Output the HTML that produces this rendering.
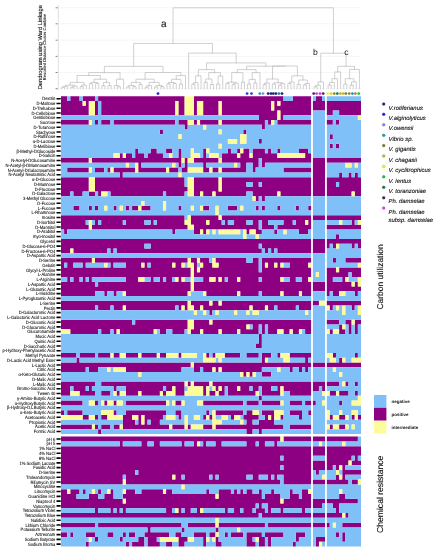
<!DOCTYPE html>
<html><head><meta charset="utf-8"><style>
html,body{margin:0;padding:0;background:#fff;}
svg{display:block;}
</style></head><body>
<svg width="435" height="550" viewBox="0 0 435 550" text-rendering="geometricPrecision">
<rect width="435" height="550" fill="#fff"/>
<line x1="59" y1="7.8" x2="361" y2="7.8" stroke="#f5f5f5" stroke-width="0.9"/>
<line x1="59" y1="23.8" x2="361" y2="23.8" stroke="#f5f5f5" stroke-width="0.9"/>
<line x1="59" y1="40.2" x2="361" y2="40.2" stroke="#f5f5f5" stroke-width="0.9"/>
<line x1="59" y1="56.4" x2="361" y2="56.4" stroke="#f5f5f5" stroke-width="0.9"/>
<line x1="59" y1="72.5" x2="361" y2="72.5" stroke="#f5f5f5" stroke-width="0.9"/>
<line x1="56" y1="88.7" x2="361" y2="88.7" stroke="#d8d8d8" stroke-width="0.6" stroke-dasharray="0.8 1.2"/>
<line x1="58.3" y1="5" x2="58.3" y2="90" stroke="#c8c8c8" stroke-width="0.6"/>
<line x1="55.6" y1="7.8" x2="57.6" y2="7.8" stroke="#777" stroke-width="0.9"/>
<line x1="55.6" y1="23.8" x2="57.6" y2="23.8" stroke="#777" stroke-width="0.9"/>
<line x1="55.6" y1="40.2" x2="57.6" y2="40.2" stroke="#777" stroke-width="0.9"/>
<line x1="55.6" y1="56.4" x2="57.6" y2="56.4" stroke="#777" stroke-width="0.9"/>
<line x1="55.6" y1="72.5" x2="57.6" y2="72.5" stroke="#777" stroke-width="0.9"/>
<line x1="55.6" y1="88.7" x2="57.6" y2="88.7" stroke="#777" stroke-width="0.9"/>
<path d="M61.55 88.70V87.20H64.65V88.70M63.10 87.20V86.40H67.75V88.70M70.85 88.70V87.20H73.95V88.70M72.40 87.20V86.10H77.05V88.70M65.43 86.40V85.10H74.73V86.10M80.15 88.70V86.60H83.25V88.70M81.70 86.60V85.10H86.35V88.70M70.08 85.10V82.40H84.03V85.10M89.45 88.70V83.70H92.55V88.70M95.65 88.70V83.40H98.75V88.70M91.00 83.70V82.40H97.20V83.40M101.85 88.70V85.60H104.95V88.70M108.05 88.70V85.60H111.15V88.70M103.40 85.60V82.40H109.60V85.60M94.10 82.40V79.20H106.50V82.40M77.05 82.40V75.50H100.30V79.20M117.36 88.70V86.80H120.46V88.70M114.26 88.70V85.60H118.91V86.80M116.58 85.60V79.20H123.56V88.70M88.68 75.50V72.60H120.07V79.20M126.66 88.70V86.90H129.76V88.70M132.86 88.70V86.60H135.96V88.70M128.21 86.90V85.60H134.41V86.60M139.06 88.70V84.50H142.16V88.70M131.31 85.60V82.40H140.61V84.50M145.26 88.70V87.10H148.36V88.70M146.81 87.10V85.60H151.46V88.70M154.56 88.70V86.90H157.66V88.70M160.76 88.70V86.60H163.86V88.70M156.11 86.90V85.60H162.31V86.60M149.13 85.60V82.40H159.21V85.60M135.96 82.40V79.20H154.17V82.40M166.96 88.70V83.80H170.06V88.70M173.16 88.70V83.50H176.26V88.70M168.51 83.80V82.50H174.71V83.50M179.36 88.70V84.00H182.46V88.70M171.61 82.50V79.30H180.91V84.00M176.26 79.30V75.60H185.56V88.70M145.06 79.20V72.50H180.91V75.60M104.37 72.60V66.30H162.99V72.50M191.76 88.70V84.20H194.86V88.70M193.31 84.20V82.70H197.96V88.70M195.64 82.70V75.80H201.06V88.70M204.16 88.70V82.20H207.26V88.70M210.36 88.70V84.50H213.46V88.70M205.71 82.20V79.00H211.91V84.50M216.57 88.70V84.00H219.67V88.70M218.12 84.00V76.00H222.77V88.70M208.81 79.00V72.60H220.44V76.00M198.35 75.80V69.60H214.63V72.60M225.87 88.70V83.50H228.97V88.70M232.07 88.70V84.70H235.17V88.70M233.62 84.70V83.20H238.27V88.70M227.42 83.50V82.20H235.94V83.20M241.37 88.70V82.20H244.47V88.70M231.68 82.20V72.60H242.92V82.20M247.57 88.70V84.00H250.67V88.70M253.77 88.70V83.00H256.87V88.70M249.12 84.00V79.40H255.32V83.00M252.22 79.40V72.60H259.97V88.70M237.30 72.60V69.60H256.09V72.60M263.07 88.70V84.50H266.17V88.70M264.62 84.50V83.00H269.27V88.70M272.37 88.70V84.00H275.47V88.70M278.57 88.70V85.20H281.67V88.70M280.12 85.20V83.70H284.77V88.70M273.92 84.00V82.70H282.45V83.70M266.95 83.00V79.00H278.18V82.70M287.87 88.70V83.50H290.97V88.70M289.42 83.50V82.00H294.07V88.70M297.17 88.70V84.50H300.27V88.70M303.37 88.70V85.00H306.47V88.70M304.92 85.00V83.50H309.57V88.70M298.72 84.50V80.00H307.25V83.50M291.75 82.00V75.80H302.99V80.00M272.56 79.00V66.00H297.37V75.80M246.70 69.60V66.20H284.97V66.00M206.49 69.60V62.90H265.83V66.20M188.66 88.70V53.10H236.16V62.90M133.68 66.30V43.40H212.41V53.10M314.11 88.70V86.80H317.24V88.70M315.67 86.80V85.30H320.38V88.70M318.03 85.30V81.80H323.51V88.70M328.05 88.70V85.00H331.19V88.70M329.62 85.00V82.40H334.33V88.70M331.98 82.40V78.70H337.47V88.70M334.72 78.70V71.90H340.60V88.70M343.74 88.70V84.00H346.88V88.70M350.02 88.70V85.00H353.15V88.70M351.58 85.00V81.80H356.29V88.70M345.31 84.00V78.70H353.94V81.80M349.62 78.70V69.40H359.43V88.70M337.66 71.90V66.30H354.53V69.40M320.77 81.80V53.20H346.09V66.30M173.05 43.40V7.80H333.43V53.20" stroke="#bcbcbc" stroke-width="0.7" fill="none" stroke-linecap="square"/>
<circle cx="158.0" cy="93.6" r="1.4" fill="#2222e8"/>
<circle cx="247.1" cy="93.6" r="1.4" fill="#2a3ee6"/>
<circle cx="251.5" cy="93.6" r="1.4" fill="#2a3ee6"/>
<circle cx="259.8" cy="93.6" r="1.4" fill="#1fa3a8"/>
<circle cx="263.0" cy="93.6" r="1.4" fill="#8a86f0"/>
<circle cx="268.2" cy="93.6" r="1.4" fill="#232384"/>
<circle cx="271.0" cy="93.6" r="1.4" fill="#232384"/>
<circle cx="273.3" cy="93.6" r="1.4" fill="#232384"/>
<circle cx="275.9" cy="93.6" r="1.4" fill="#232384"/>
<circle cx="278.9" cy="93.6" r="1.4" fill="#178f98"/>
<circle cx="282.0" cy="93.6" r="1.4" fill="#232384"/>
<circle cx="313.7" cy="93.6" r="1.4" fill="#5a1d78"/>
<circle cx="316.6" cy="93.6" r="1.4" fill="#d83ae0"/>
<circle cx="320.0" cy="93.6" r="1.4" fill="#d83ae0"/>
<circle cx="323.2" cy="93.6" r="1.4" fill="#5a1d78"/>
<circle cx="327.7" cy="93.6" r="1.4" fill="#f2f020"/>
<circle cx="331.0" cy="93.6" r="1.4" fill="#d0e030"/>
<circle cx="334.2" cy="93.6" r="1.4" fill="#8f8f20"/>
<circle cx="337.3" cy="93.6" r="1.4" fill="#148a34"/>
<circle cx="340.3" cy="93.6" r="1.4" fill="#cfae30"/>
<circle cx="343.0" cy="93.6" r="1.4" fill="#b4c030"/>
<circle cx="345.8" cy="93.6" r="1.4" fill="#80801e"/>
<circle cx="349.2" cy="93.6" r="1.4" fill="#8e8e3c"/>
<circle cx="352.4" cy="93.6" r="1.4" fill="#2190c0"/>
<circle cx="355.4" cy="93.6" r="1.4" fill="#a08a30"/>
<circle cx="358.8" cy="93.6" r="1.4" fill="#22c228"/>
<path fill="#8e0082" d="M61.00 96.30H67.18V101.05H61.00ZM70.27 96.30H79.54V101.05H70.27ZM82.63 96.30H94.99V101.05H82.63ZM98.08 96.30H184.60V101.05H98.08ZM193.87 96.30H283.48V101.05H193.87ZM292.75 96.30H311.29V101.05H292.75ZM315.82 96.30H322.07V101.05H315.82ZM61.00 101.05H82.63V105.81H61.00ZM85.72 101.05H88.81V105.81H85.72ZM94.99 101.05H98.08V105.81H94.99ZM101.17 101.05H175.33V105.81H101.17ZM178.42 101.05H184.60V105.81H178.42ZM193.87 101.05H196.96V105.81H193.87ZM203.14 101.05H218.59V105.81H203.14ZM221.68 101.05H271.12V105.81H221.68ZM274.21 101.05H277.30V105.81H274.21ZM280.39 101.05H311.29V105.81H280.39ZM312.70 101.05H325.20V105.81H312.70ZM326.60 101.05H361.00V105.81H326.60ZM61.00 105.81H88.81V110.56H61.00ZM94.99 105.81H98.08V110.56H94.99ZM101.17 105.81H175.33V110.56H101.17ZM178.42 105.81H184.60V110.56H178.42ZM193.87 105.81H196.96V110.56H193.87ZM203.14 105.81H218.59V110.56H203.14ZM221.68 105.81H271.12V110.56H221.68ZM274.21 105.81H311.29V110.56H274.21ZM312.70 105.81H325.20V110.56H312.70ZM326.60 105.81H361.00V110.56H326.60ZM61.00 110.56H88.81V115.32H61.00ZM94.99 110.56H98.08V115.32H94.99ZM101.17 110.56H175.33V115.32H101.17ZM178.42 110.56H184.60V115.32H178.42ZM193.87 110.56H196.96V115.32H193.87ZM203.14 110.56H218.59V115.32H203.14ZM221.68 110.56H277.30V115.32H221.68ZM280.39 110.56H311.29V115.32H280.39ZM326.60 110.56H332.85V115.32H326.60ZM339.11 110.56H361.00V115.32H339.11ZM258.76 115.32H277.30V120.07H258.76ZM280.39 115.32H283.48V120.07H280.39ZM61.00 120.07H88.81V124.83H61.00ZM94.99 120.07H98.08V124.83H94.99ZM101.17 120.07H110.44V124.83H101.17ZM113.53 120.07H175.33V124.83H113.53ZM178.42 120.07H187.69V124.83H178.42ZM193.87 120.07H196.96V124.83H193.87ZM200.05 120.07H218.59V124.83H200.05ZM221.68 120.07H264.94V124.83H221.68ZM268.03 120.07H271.12V124.83H268.03ZM277.30 120.07H311.29V124.83H277.30ZM326.60 120.07H332.85V124.83H326.60ZM335.98 120.07H339.11V124.83H335.98ZM184.60 124.83H187.69V129.59H184.60ZM261.85 124.83H264.94V129.59H261.85ZM159.88 129.58H162.97V134.34H159.88ZM243.31 129.58H246.40V134.34H243.31ZM329.73 134.34H332.85V139.09H329.73ZM258.76 139.09H261.85V143.85H258.76ZM329.73 143.85H332.85V148.60H329.73ZM335.98 143.85H339.11V148.60H335.98ZM135.16 148.60H138.25V153.36H135.16ZM150.61 148.60H156.79V153.36H150.61ZM166.06 148.60H172.24V153.36H166.06ZM178.42 148.60H181.51V153.36H178.42ZM203.14 148.60H206.23V153.36H203.14ZM227.86 148.60H230.95V153.36H227.86ZM237.13 148.60H240.22V153.36H237.13ZM243.31 148.60H249.49V153.36H243.31ZM252.58 148.60H264.94V153.36H252.58ZM268.03 148.60H271.12V153.36H268.03ZM277.30 148.60H280.39V153.36H277.30ZM298.93 148.60H308.20V153.36H298.93ZM119.71 153.36H122.80V158.12H119.71ZM125.89 153.36H132.07V158.12H125.89ZM135.16 153.36H144.43V158.12H135.16ZM147.52 153.36H162.97V158.12H147.52ZM178.42 153.36H181.51V158.12H178.42ZM203.14 153.36H206.23V158.12H203.14ZM221.68 153.36H237.13V158.12H221.68ZM240.22 153.36H249.49V158.12H240.22ZM252.58 153.36H277.30V158.12H252.58ZM305.11 153.36H311.29V158.12H305.11ZM61.00 158.12H88.81V162.87H61.00ZM91.90 158.12H181.51V162.87H91.90ZM184.60 158.12H187.69V162.87H184.60ZM193.87 158.12H218.59V162.87H193.87ZM221.68 158.12H258.76V162.87H221.68ZM261.85 158.12H311.29V162.87H261.85ZM312.70 158.12H325.20V162.87H312.70ZM326.60 158.12H361.00V162.87H326.60ZM138.25 162.87H141.34V167.62H138.25ZM178.42 162.87H181.51V167.62H178.42ZM184.60 162.87H187.69V167.62H184.60ZM203.14 162.87H206.23V167.62H203.14ZM240.22 162.87H246.40V167.62H240.22ZM252.58 162.87H258.76V167.62H252.58ZM261.85 162.87H264.94V167.62H261.85ZM312.70 162.87H325.20V167.62H312.70ZM67.18 167.62H88.81V172.38H67.18ZM94.99 167.62H104.26V172.38H94.99ZM107.35 167.62H110.44V172.38H107.35ZM113.53 167.62H135.16V172.38H113.53ZM138.25 167.62H166.06V172.38H138.25ZM169.15 167.62H178.42V172.38H169.15ZM181.51 167.62H187.69V172.38H181.51ZM203.14 167.62H209.32V172.38H203.14ZM212.41 167.62H218.59V172.38H212.41ZM221.68 167.62H246.40V172.38H221.68ZM252.58 167.62H255.67V172.38H252.58ZM283.48 167.62H311.29V172.38H283.48ZM312.70 167.62H325.20V172.38H312.70ZM119.71 172.38H122.80V177.13H119.71ZM312.70 172.38H325.20V177.13H312.70ZM339.11 172.38H342.24V177.13H339.11ZM348.49 172.38H351.62V177.13H348.49ZM354.74 172.38H357.87V177.13H354.74ZM61.00 177.13H88.81V181.89H61.00ZM94.99 177.13H184.60V181.89H94.99ZM193.87 177.13H218.59V181.89H193.87ZM221.68 177.13H311.29V181.89H221.68ZM312.70 177.13H325.20V181.89H312.70ZM326.60 177.13H361.00V181.89H326.60ZM61.00 181.89H88.81V186.64H61.00ZM94.99 181.89H184.60V186.64H94.99ZM193.87 181.89H218.59V186.64H193.87ZM221.68 181.89H246.40V186.64H221.68ZM252.58 181.89H258.76V186.64H252.58ZM261.85 181.89H311.29V186.64H261.85ZM312.70 181.89H325.20V186.64H312.70ZM326.60 181.89H335.98V186.64H326.60ZM339.11 181.89H361.00V186.64H339.11ZM61.00 186.64H88.81V191.40H61.00ZM94.99 186.64H187.69V191.40H94.99ZM193.87 186.64H218.59V191.40H193.87ZM221.68 186.64H311.29V191.40H221.68ZM312.70 186.64H325.20V191.40H312.70ZM326.60 186.64H361.00V191.40H326.60ZM61.00 191.40H70.27V196.15H61.00ZM73.36 191.40H82.63V196.15H73.36ZM88.81 191.40H94.99V196.15H88.81ZM98.08 191.40H101.17V196.15H98.08ZM110.44 191.40H162.97V196.15H110.44ZM166.06 191.40H184.60V196.15H166.06ZM193.87 191.40H200.05V196.15H193.87ZM203.14 191.40H212.41V196.15H203.14ZM215.50 191.40H246.40V196.15H215.50ZM252.58 191.40H277.30V196.15H252.58ZM280.39 191.40H311.29V196.15H280.39ZM312.70 191.40H325.20V196.15H312.70ZM326.60 191.40H351.62V196.15H326.60ZM354.74 191.40H361.00V196.15H354.74ZM255.67 196.16H258.76V200.91H255.67ZM261.85 196.16H264.94V200.91H261.85ZM73.36 205.66H79.54V210.42H73.36ZM88.81 205.66H91.90V210.42H88.81ZM94.99 205.66H98.08V210.42H94.99ZM113.53 205.66H116.62V210.42H113.53ZM125.89 205.66H128.98V210.42H125.89ZM132.07 205.66H138.25V210.42H132.07ZM141.34 205.66H150.61V210.42H141.34ZM178.42 205.66H181.51V210.42H178.42ZM203.14 205.66H209.32V210.42H203.14ZM227.86 205.66H237.13V210.42H227.86ZM255.67 205.66H258.76V210.42H255.67ZM261.85 205.66H264.94V210.42H261.85ZM277.30 205.66H280.39V210.42H277.30ZM295.84 205.66H298.93V210.42H295.84ZM308.20 205.66H311.29V210.42H308.20ZM61.00 215.18H184.60V219.93H61.00ZM190.78 215.18H218.59V219.93H190.78ZM221.68 215.18H311.29V219.93H221.68ZM312.70 215.18H325.20V219.93H312.70ZM326.60 215.18H361.00V219.93H326.60ZM61.00 219.93H85.72V224.69H61.00ZM94.99 219.93H98.08V224.69H94.99ZM101.17 219.93H122.80V224.69H101.17ZM125.89 219.93H144.43V224.69H125.89ZM150.61 219.93H153.70V224.69H150.61ZM156.79 219.93H184.60V224.69H156.79ZM190.78 219.93H206.23V224.69H190.78ZM209.32 219.93H221.68V224.69H209.32ZM224.77 219.93H227.86V224.69H224.77ZM234.04 219.93H246.40V224.69H234.04ZM252.58 219.93H258.76V224.69H252.58ZM261.85 219.93H268.03V224.69H261.85ZM283.48 219.93H292.75V224.69H283.48ZM295.84 219.93H305.11V224.69H295.84ZM308.20 219.93H311.29V224.69H308.20ZM351.62 219.93H354.74V224.69H351.62ZM61.00 224.69H88.81V229.44H61.00ZM91.90 224.69H187.69V229.44H91.90ZM193.87 224.69H258.76V229.44H193.87ZM261.85 224.69H274.21V229.44H261.85ZM277.30 224.69H311.29V229.44H277.30ZM326.60 224.69H361.00V229.44H326.60ZM64.09 229.44H67.18V234.19H64.09ZM172.24 229.44H175.33V234.19H172.24ZM193.87 229.44H200.05V234.19H193.87ZM203.14 229.44H206.23V234.19H203.14ZM246.40 229.44H249.49V234.19H246.40ZM255.67 229.44H261.85V234.19H255.67ZM274.21 229.44H277.30V234.19H274.21ZM298.93 229.44H308.20V234.19H298.93ZM335.98 234.19H339.11V238.95H335.98ZM61.00 238.95H311.29V243.70H61.00ZM312.70 238.95H325.20V243.70H312.70ZM326.60 238.95H361.00V243.70H326.60ZM61.00 243.70H144.43V248.46H61.00ZM150.61 243.70H258.76V248.46H150.61ZM261.85 243.70H311.29V248.46H261.85ZM312.70 243.70H325.20V248.46H312.70ZM326.60 243.70H329.73V248.46H326.60ZM332.85 243.70H335.98V248.46H332.85ZM351.62 243.70H354.74V248.46H351.62ZM357.87 243.70H361.00V248.46H357.87ZM61.00 248.46H70.27V253.21H61.00ZM73.36 248.46H107.35V253.21H73.36ZM110.44 248.46H113.53V253.21H110.44ZM116.62 248.46H261.85V253.21H116.62ZM264.94 248.46H268.03V253.21H264.94ZM271.12 248.46H274.21V253.21H271.12ZM277.30 248.46H311.29V253.21H277.30ZM312.70 248.46H325.20V253.21H312.70ZM61.00 257.97H91.90V262.72H61.00ZM94.99 257.97H187.69V262.72H94.99ZM190.78 257.97H196.96V262.72H190.78ZM200.05 257.97H209.32V262.72H200.05ZM215.50 257.97H246.40V262.72H215.50ZM252.58 257.97H258.76V262.72H252.58ZM261.85 257.97H311.29V262.72H261.85ZM332.85 257.97H335.98V262.72H332.85ZM345.36 257.97H361.00V262.72H345.36ZM61.00 262.72H64.09V267.48H61.00ZM67.18 262.72H73.36V267.48H67.18ZM82.63 262.72H85.72V267.48H82.63ZM110.44 262.72H113.53V267.48H110.44ZM125.89 262.72H141.34V267.48H125.89ZM144.43 262.72H147.52V267.48H144.43ZM150.61 262.72H172.24V267.48H150.61ZM175.33 262.72H181.51V267.48H175.33ZM193.87 262.72H196.96V267.48H193.87ZM203.14 262.72H212.41V267.48H203.14ZM218.59 262.72H258.76V267.48H218.59ZM261.85 262.72H264.94V267.48H261.85ZM268.03 262.72H274.21V267.48H268.03ZM277.30 262.72H280.39V267.48H277.30ZM289.66 262.72H308.20V267.48H289.66ZM61.00 267.48H190.78V272.24H61.00ZM193.87 267.48H196.96V272.24H193.87ZM200.05 267.48H258.76V272.24H200.05ZM261.85 267.48H311.29V272.24H261.85ZM326.60 267.48H335.98V272.24H326.60ZM339.11 267.48H361.00V272.24H339.11ZM61.00 272.24H190.78V276.99H61.00ZM193.87 272.24H311.29V276.99H193.87ZM326.60 272.24H348.49V276.99H326.60ZM351.62 272.24H361.00V276.99H351.62ZM67.18 276.99H70.27V281.75H67.18ZM73.36 276.99H79.54V281.75H73.36ZM82.63 276.99H85.72V281.75H82.63ZM88.81 276.99H91.90V281.75H88.81ZM125.89 276.99H138.25V281.75H125.89ZM150.61 276.99H153.70V281.75H150.61ZM159.88 276.99H162.97V281.75H159.88ZM166.06 276.99H172.24V281.75H166.06ZM178.42 276.99H181.51V281.75H178.42ZM203.14 276.99H209.32V281.75H203.14ZM215.50 276.99H218.59V281.75H215.50ZM221.68 276.99H224.77V281.75H221.68ZM227.86 276.99H237.13V281.75H227.86ZM240.22 276.99H258.76V281.75H240.22ZM261.85 276.99H280.39V281.75H261.85ZM289.66 276.99H295.84V281.75H289.66ZM302.02 276.99H308.20V281.75H302.02ZM326.60 276.99H332.85V281.75H326.60ZM342.24 276.99H345.36V281.75H342.24ZM61.00 281.75H94.99V286.50H61.00ZM98.08 281.75H190.78V286.50H98.08ZM193.87 281.75H311.29V286.50H193.87ZM312.70 281.75H325.20V286.50H312.70ZM326.60 281.75H351.62V286.50H326.60ZM354.74 281.75H357.87V286.50H354.74ZM61.00 286.50H190.78V291.25H61.00ZM193.87 286.50H311.29V291.25H193.87ZM312.70 286.50H325.20V291.25H312.70ZM326.60 286.50H361.00V291.25H326.60ZM61.00 291.25H94.99V296.01H61.00ZM104.26 291.25H107.35V296.01H104.26ZM113.53 291.25H116.62V296.01H113.53ZM125.89 291.25H187.69V296.01H125.89ZM206.23 291.25H237.13V296.01H206.23ZM240.22 291.25H258.76V296.01H240.22ZM261.85 291.25H280.39V296.01H261.85ZM283.48 291.25H298.93V296.01H283.48ZM302.02 291.25H311.29V296.01H302.02ZM326.60 291.25H329.73V296.01H326.60ZM332.85 291.25H339.11V296.01H332.85ZM354.74 291.25H357.87V296.01H354.74ZM61.00 300.76H187.69V305.52H61.00ZM190.78 300.76H209.32V305.52H190.78ZM212.41 300.76H218.59V305.52H212.41ZM221.68 300.76H311.29V305.52H221.68ZM312.70 300.76H318.95V305.52H312.70ZM326.60 300.76H361.00V305.52H326.60ZM61.00 305.52H94.99V310.27H61.00ZM98.08 305.52H110.44V310.27H98.08ZM113.53 305.52H122.80V310.27H113.53ZM125.89 305.52H175.33V310.27H125.89ZM178.42 305.52H181.51V310.27H178.42ZM184.60 305.52H187.69V310.27H184.60ZM193.87 305.52H200.05V310.27H193.87ZM203.14 305.52H249.49V310.27H203.14ZM252.58 305.52H264.94V310.27H252.58ZM268.03 305.52H274.21V310.27H268.03ZM277.30 305.52H295.84V310.27H277.30ZM298.93 305.52H311.29V310.27H298.93ZM329.73 305.52H332.85V310.27H329.73ZM351.62 305.52H354.74V310.27H351.62ZM209.32 310.27H212.41V315.03H209.32ZM61.00 319.78H132.07V324.54H61.00ZM135.16 319.78H187.69V324.54H135.16ZM193.87 319.78H209.32V324.54H193.87ZM212.41 319.78H311.29V324.54H212.41ZM326.60 319.78H339.11V324.54H326.60ZM345.36 319.78H351.62V324.54H345.36ZM354.74 319.78H361.00V324.54H354.74ZM61.00 324.54H187.69V329.30H61.00ZM193.87 324.54H246.40V329.30H193.87ZM252.58 324.54H258.76V329.30H252.58ZM261.85 324.54H264.94V329.30H261.85ZM268.03 324.54H311.29V329.30H268.03ZM339.11 324.54H342.24V329.30H339.11ZM348.49 324.54H351.62V329.30H348.49ZM354.74 324.54H357.87V329.30H354.74ZM70.27 329.30H98.08V334.05H70.27ZM101.17 329.30H110.44V334.05H101.17ZM113.53 329.30H116.62V334.05H113.53ZM119.71 329.30H153.70V334.05H119.71ZM159.88 329.30H166.06V334.05H159.88ZM172.24 329.30H184.60V334.05H172.24ZM190.78 329.30H200.05V334.05H190.78ZM203.14 329.30H218.59V334.05H203.14ZM221.68 329.30H237.13V334.05H221.68ZM240.22 329.30H258.76V334.05H240.22ZM261.85 329.30H264.94V334.05H261.85ZM268.03 329.30H277.30V334.05H268.03ZM283.48 329.30H289.66V334.05H283.48ZM292.75 329.30H298.93V334.05H292.75ZM305.11 329.30H311.29V334.05H305.11ZM329.73 329.30H332.85V334.05H329.73ZM339.11 329.30H345.36V334.05H339.11ZM348.49 329.30H351.62V334.05H348.49ZM354.74 329.30H357.87V334.05H354.74ZM258.76 334.05H261.85V338.81H258.76ZM258.76 338.81H261.85V343.56H258.76ZM255.67 343.56H261.85V348.31H255.67ZM61.00 353.07H76.45V357.82H61.00ZM79.54 353.07H94.99V357.82H79.54ZM98.08 353.07H110.44V357.82H98.08ZM113.53 353.07H119.71V357.82H113.53ZM125.89 353.07H138.25V357.82H125.89ZM141.34 353.07H156.79V357.82H141.34ZM159.88 353.07H166.06V357.82H159.88ZM178.42 353.07H181.51V357.82H178.42ZM206.23 353.07H209.32V357.82H206.23ZM212.41 353.07H215.50V357.82H212.41ZM224.77 353.07H240.22V357.82H224.77ZM246.40 353.07H258.76V357.82H246.40ZM261.85 353.07H271.12V357.82H261.85ZM277.30 353.07H280.39V357.82H277.30ZM289.66 353.07H311.29V357.82H289.66ZM332.85 353.07H335.98V357.82H332.85ZM354.74 353.07H357.87V357.82H354.74ZM76.45 357.82H79.54V362.58H76.45ZM261.85 357.82H264.94V362.58H261.85ZM305.11 357.82H308.20V362.58H305.11ZM339.11 357.82H342.24V362.58H339.11ZM61.00 362.58H190.78V367.33H61.00ZM193.87 362.58H311.29V367.33H193.87ZM312.70 362.58H325.20V367.33H312.70ZM326.60 362.58H361.00V367.33H326.60ZM61.00 367.33H85.72V372.09H61.00ZM88.81 367.33H98.08V372.09H88.81ZM125.89 367.33H181.51V372.09H125.89ZM193.87 367.33H200.05V372.09H193.87ZM203.14 367.33H212.41V372.09H203.14ZM215.50 367.33H218.59V372.09H215.50ZM221.68 367.33H261.85V372.09H221.68ZM289.66 367.33H292.75V372.09H289.66ZM298.93 367.33H302.02V372.09H298.93ZM305.11 367.33H308.20V372.09H305.11ZM243.31 372.09H246.40V376.85H243.31ZM249.49 372.09H252.58V376.85H249.49ZM261.85 372.09H271.12V376.85H261.85ZM61.00 381.60H94.99V386.36H61.00ZM101.17 381.60H184.60V386.36H101.17ZM187.69 381.60H190.78V386.36H187.69ZM193.87 381.60H209.32V386.36H193.87ZM212.41 381.60H311.29V386.36H212.41ZM312.70 381.60H325.20V386.36H312.70ZM326.60 381.60H339.11V386.36H326.60ZM345.36 381.60H348.49V386.36H345.36ZM354.74 381.60H357.87V386.36H354.74ZM61.00 386.36H70.27V391.11H61.00ZM73.36 386.36H85.72V391.11H73.36ZM88.81 386.36H91.90V391.11H88.81ZM113.53 386.36H116.62V391.11H113.53ZM125.89 386.36H162.97V391.11H125.89ZM166.06 386.36H172.24V391.11H166.06ZM175.33 386.36H184.60V391.11H175.33ZM203.14 386.36H206.23V391.11H203.14ZM215.50 386.36H218.59V391.11H215.50ZM221.68 386.36H224.77V391.11H221.68ZM227.86 386.36H237.13V391.11H227.86ZM240.22 386.36H249.49V391.11H240.22ZM252.58 386.36H258.76V391.11H252.58ZM261.85 386.36H271.12V391.11H261.85ZM277.30 386.36H280.39V391.11H277.30ZM283.48 386.36H311.29V391.11H283.48ZM312.70 386.36H318.95V391.11H312.70ZM322.07 386.36H325.20V391.11H322.07ZM61.00 391.11H70.27V395.87H61.00ZM79.54 391.11H94.99V395.87H79.54ZM101.17 391.11H110.44V395.87H101.17ZM116.62 391.11H119.71V395.87H116.62ZM125.89 391.11H138.25V395.87H125.89ZM141.34 391.11H159.88V395.87H141.34ZM162.97 391.11H166.06V395.87H162.97ZM175.33 391.11H184.60V395.87H175.33ZM203.14 391.11H206.23V395.87H203.14ZM209.32 391.11H215.50V395.87H209.32ZM218.59 391.11H224.77V395.87H218.59ZM227.86 391.11H255.67V395.87H227.86ZM261.85 391.11H280.39V395.87H261.85ZM289.66 391.11H311.29V395.87H289.66ZM329.73 391.11H335.98V395.87H329.73ZM339.11 391.11H348.49V395.87H339.11ZM354.74 391.11H357.87V395.87H354.74ZM258.76 395.87H261.85V400.62H258.76ZM61.00 400.62H82.63V405.38H61.00ZM94.99 400.62H98.08V405.38H94.99ZM104.26 400.62H107.35V405.38H104.26ZM113.53 400.62H116.62V405.38H113.53ZM125.89 400.62H166.06V405.38H125.89ZM175.33 400.62H181.51V405.38H175.33ZM203.14 400.62H243.31V405.38H203.14ZM246.40 400.62H258.76V405.38H246.40ZM261.85 400.62H280.39V405.38H261.85ZM289.66 400.62H302.02V405.38H289.66ZM305.11 400.62H311.29V405.38H305.11ZM312.70 400.62H315.82V405.38H312.70ZM339.11 400.62H342.24V405.38H339.11ZM61.00 410.13H64.09V414.88H61.00ZM67.18 410.13H82.63V414.88H67.18ZM113.53 410.13H116.62V414.88H113.53ZM125.89 410.13H166.06V414.88H125.89ZM175.33 410.13H181.51V414.88H175.33ZM206.23 410.13H209.32V414.88H206.23ZM215.50 410.13H243.31V414.88H215.50ZM246.40 410.13H252.58V414.88H246.40ZM261.85 410.13H274.21V414.88H261.85ZM289.66 410.13H302.02V414.88H289.66ZM308.20 410.13H311.29V414.88H308.20ZM82.63 414.88H88.81V419.64H82.63ZM94.99 414.88H98.08V419.64H94.99ZM101.17 414.88H107.35V419.64H101.17ZM122.80 414.88H132.07V419.64H122.80ZM138.25 414.88H141.34V419.64H138.25ZM144.43 414.88H162.97V419.64H144.43ZM178.42 414.88H181.51V419.64H178.42ZM203.14 414.88H206.23V419.64H203.14ZM209.32 414.88H212.41V419.64H209.32ZM230.95 414.88H234.04V419.64H230.95ZM243.31 414.88H258.76V419.64H243.31ZM264.94 414.88H268.03V419.64H264.94ZM271.12 414.88H274.21V419.64H271.12ZM280.39 414.88H283.48V419.64H280.39ZM298.93 414.88H302.02V419.64H298.93ZM329.73 414.88H332.85V419.64H329.73ZM339.11 414.88H345.36V419.64H339.11ZM351.62 414.88H354.74V419.64H351.62ZM357.87 414.88H361.00V419.64H357.87ZM122.80 419.64H135.16V424.39H122.80ZM138.25 419.64H141.34V424.39H138.25ZM144.43 419.64H147.52V424.39H144.43ZM150.61 419.64H159.88V424.39H150.61ZM246.40 419.64H252.58V424.39H246.40ZM258.76 419.64H274.21V424.39H258.76ZM61.00 424.39H91.90V429.15H61.00ZM94.99 424.39H98.08V429.15H94.99ZM101.17 424.39H110.44V429.15H101.17ZM113.53 424.39H119.71V429.15H113.53ZM122.80 424.39H169.15V429.15H122.80ZM172.24 424.39H184.60V429.15H172.24ZM187.69 424.39H190.78V429.15H187.69ZM203.14 424.39H212.41V429.15H203.14ZM215.50 424.39H283.48V429.15H215.50ZM289.66 424.39H311.29V429.15H289.66ZM329.73 424.39H332.85V429.15H329.73ZM339.11 424.39H345.36V429.15H339.11ZM98.08 429.15H101.17V433.90H98.08ZM246.40 429.15H252.58V433.90H246.40ZM258.76 429.15H261.85V433.90H258.76ZM61.00 436.61H280.39V441.38H61.00ZM283.48 436.61H311.29V441.38H283.48ZM312.70 436.61H325.20V441.38H312.70ZM326.60 436.61H357.87V441.38H326.60ZM119.71 441.38H122.80V446.16H119.71ZM141.34 441.38H147.52V446.16H141.34ZM153.70 441.38H159.88V446.16H153.70ZM181.51 441.38H184.60V446.16H181.51ZM193.87 441.38H196.96V446.16H193.87ZM203.14 441.38H206.23V446.16H203.14ZM215.50 441.38H221.68V446.16H215.50ZM246.40 441.38H255.67V446.16H246.40ZM258.76 441.38H264.94V446.16H258.76ZM274.21 441.38H277.30V446.16H274.21ZM61.00 446.17H311.29V450.94H61.00ZM312.70 446.17H325.20V450.94H312.70ZM326.60 446.17H361.00V450.94H326.60ZM61.00 450.94H311.29V455.72H61.00ZM312.70 450.94H325.20V455.72H312.70ZM326.60 450.94H361.00V455.72H326.60ZM61.00 455.73H280.39V460.50H61.00ZM283.48 455.73H311.29V460.50H283.48ZM326.60 455.73H351.62V460.50H326.60ZM354.74 455.73H357.87V460.50H354.74ZM61.00 460.50H311.29V465.28H61.00ZM312.70 460.50H325.20V465.28H312.70ZM326.60 460.50H348.49V465.28H326.60ZM351.62 460.50H361.00V465.28H351.62ZM61.00 465.29H280.39V470.06H61.00ZM283.48 465.29H311.29V470.06H283.48ZM312.70 465.29H325.20V470.06H312.70ZM326.60 465.29H332.85V470.06H326.60ZM335.98 465.29H339.11V470.06H335.98ZM342.24 465.29H345.36V470.06H342.24ZM61.00 470.06H135.16V474.84H61.00ZM138.25 470.06H311.29V474.84H138.25ZM315.82 470.06H318.95V474.84H315.82ZM342.24 470.06H361.00V474.84H342.24ZM61.00 474.85H122.80V479.62H61.00ZM125.89 474.85H172.24V479.62H125.89ZM175.33 474.85H181.51V479.62H175.33ZM184.60 474.85H209.32V479.62H184.60ZM212.41 474.85H215.50V479.62H212.41ZM218.59 474.85H246.40V479.62H218.59ZM252.58 474.85H258.76V479.62H252.58ZM268.03 474.85H271.12V479.62H268.03ZM274.21 474.85H277.30V479.62H274.21ZM283.48 474.85H311.29V479.62H283.48ZM335.98 474.85H339.11V479.62H335.98ZM342.24 474.85H345.36V479.62H342.24ZM61.00 479.62H122.80V484.40H61.00ZM125.89 479.62H280.39V484.40H125.89ZM283.48 479.62H311.29V484.40H283.48ZM312.70 479.62H325.20V484.40H312.70ZM326.60 479.62H348.49V484.40H326.60ZM351.62 479.62H357.87V484.40H351.62ZM61.00 489.19H67.18V493.96H61.00ZM70.27 489.19H79.54V493.96H70.27ZM82.63 489.19H85.72V493.96H82.63ZM98.08 489.19H101.17V493.96H98.08ZM110.44 489.19H113.53V493.96H110.44ZM125.89 489.19H135.16V493.96H125.89ZM141.34 489.19H162.97V493.96H141.34ZM166.06 489.19H172.24V493.96H166.06ZM206.23 489.19H209.32V493.96H206.23ZM218.59 489.19H230.95V493.96H218.59ZM234.04 489.19H237.13V493.96H234.04ZM240.22 489.19H243.31V493.96H240.22ZM246.40 489.19H252.58V493.96H246.40ZM258.76 489.19H261.85V493.96H258.76ZM271.12 489.19H274.21V493.96H271.12ZM289.66 489.19H292.75V493.96H289.66ZM302.02 489.19H308.20V493.96H302.02ZM61.00 493.97H76.45V498.75H61.00ZM88.81 493.97H98.08V498.75H88.81ZM104.26 493.97H113.53V498.75H104.26ZM122.80 493.97H215.50V498.75H122.80ZM218.59 493.97H261.85V498.75H218.59ZM264.94 493.97H280.39V498.75H264.94ZM289.66 493.97H298.93V498.75H289.66ZM302.02 493.97H311.29V498.75H302.02ZM339.11 493.97H345.36V498.75H339.11ZM61.00 498.75H122.80V503.52H61.00ZM125.89 498.75H280.39V503.52H125.89ZM283.48 498.75H311.29V503.52H283.48ZM312.70 498.75H325.20V503.52H312.70ZM326.60 498.75H357.87V503.52H326.60ZM61.00 503.53H255.67V508.31H61.00ZM258.76 503.53H261.85V508.31H258.76ZM268.03 503.53H311.29V508.31H268.03ZM312.70 503.53H322.07V508.31H312.70ZM332.85 503.53H339.11V508.31H332.85ZM94.99 508.31H98.08V513.09H94.99ZM110.44 508.31H113.53V513.09H110.44ZM116.62 508.31H119.71V513.09H116.62ZM122.80 508.31H125.89V513.09H122.80ZM166.06 508.31H172.24V513.09H166.06ZM178.42 508.31H181.51V513.09H178.42ZM184.60 508.31H190.78V513.09H184.60ZM196.96 508.31H200.05V513.09H196.96ZM224.77 508.31H227.86V513.09H224.77ZM234.04 508.31H240.22V513.09H234.04ZM243.31 508.31H252.58V513.09H243.31ZM255.67 508.31H264.94V513.09H255.67ZM268.03 508.31H271.12V513.09H268.03ZM280.39 508.31H283.48V513.09H280.39ZM302.02 508.31H305.11V513.09H302.02ZM335.98 508.31H339.11V513.09H335.98ZM61.00 513.09H258.76V517.87H61.00ZM261.85 513.09H311.29V517.87H261.85ZM312.70 513.09H325.20V517.87H312.70ZM326.60 513.09H342.24V517.87H326.60ZM345.36 513.09H348.49V517.87H345.36ZM61.00 522.64H94.99V527.42H61.00ZM98.08 522.64H181.51V527.42H98.08ZM187.69 522.64H215.50V527.42H187.69ZM218.59 522.64H264.94V527.42H218.59ZM268.03 522.64H311.29V527.42H268.03ZM312.70 522.64H325.20V527.42H312.70ZM326.60 522.64H329.73V527.42H326.60ZM342.24 522.64H361.00V527.42H342.24ZM147.52 527.43H150.61V532.21H147.52ZM181.51 527.43H184.60V532.21H181.51ZM215.50 527.43H218.59V532.21H215.50ZM61.00 532.21H67.18V536.99H61.00ZM70.27 532.21H73.36V536.99H70.27ZM85.72 532.21H94.99V536.99H85.72ZM107.35 532.21H113.53V536.99H107.35ZM122.80 532.21H125.89V536.99H122.80ZM128.98 532.21H135.16V536.99H128.98ZM144.43 532.21H169.15V536.99H144.43ZM175.33 532.21H181.51V536.99H175.33ZM193.87 532.21H206.23V536.99H193.87ZM209.32 532.21H215.50V536.99H209.32ZM224.77 532.21H227.86V536.99H224.77ZM230.95 532.21H243.31V536.99H230.95ZM246.40 532.21H261.85V536.99H246.40ZM264.94 532.21H283.48V536.99H264.94ZM295.84 532.21H305.11V536.99H295.84ZM335.98 532.21H339.11V536.99H335.98ZM342.24 532.21H345.36V536.99H342.24ZM94.99 536.99H98.08V541.76H94.99ZM119.71 536.99H122.80V541.76H119.71ZM138.25 536.99H144.43V541.76H138.25ZM147.52 536.99H156.79V541.76H147.52ZM178.42 536.99H187.69V541.76H178.42ZM203.14 536.99H206.23V541.76H203.14ZM215.50 536.99H218.59V541.76H215.50ZM246.40 536.99H252.58V541.76H246.40ZM258.76 536.99H264.94V541.76H258.76ZM268.03 536.99H271.12V541.76H268.03ZM295.84 536.99H298.93V541.76H295.84ZM315.82 536.99H325.20V541.76H315.82ZM342.24 536.99H345.36V541.76H342.24ZM85.72 541.76H88.81V546.54H85.72ZM125.89 541.76H128.98V546.54H125.89ZM132.07 541.76H144.43V546.54H132.07ZM147.52 541.76H159.88V546.54H147.52ZM166.06 541.76H172.24V546.54H166.06ZM178.42 541.76H184.60V546.54H178.42ZM203.14 541.76H206.23V546.54H203.14ZM215.50 541.76H221.68V546.54H215.50ZM246.40 541.76H255.67V546.54H246.40ZM258.76 541.76H264.94V546.54H258.76ZM268.03 541.76H271.12V546.54H268.03ZM292.75 541.76H295.84V546.54H292.75ZM315.82 541.76H318.95V546.54H315.82Z"/>
<path fill="#80c0f8" d="M67.18 96.30H70.27V101.05H67.18ZM79.54 96.30H82.63V101.05H79.54ZM94.99 96.30H98.08V101.05H94.99ZM283.48 96.30H292.75V101.05H283.48ZM312.70 96.30H315.82V101.05H312.70ZM322.07 96.30H325.20V101.05H322.07ZM326.60 96.30H361.00V101.05H326.60ZM98.08 101.05H101.17V105.81H98.08ZM98.08 105.81H101.17V110.56H98.08ZM98.08 110.56H101.17V115.32H98.08ZM312.70 110.56H325.20V115.32H312.70ZM332.85 110.56H339.11V115.32H332.85ZM61.00 115.32H258.76V120.07H61.00ZM283.48 115.32H311.29V120.07H283.48ZM312.70 115.32H325.20V120.07H312.70ZM326.60 115.32H357.87V120.07H326.60ZM91.90 120.07H94.99V124.83H91.90ZM98.08 120.07H101.17V124.83H98.08ZM110.44 120.07H113.53V124.83H110.44ZM175.33 120.07H178.42V124.83H175.33ZM264.94 120.07H268.03V124.83H264.94ZM274.21 120.07H277.30V124.83H274.21ZM312.70 120.07H325.20V124.83H312.70ZM332.85 120.07H335.98V124.83H332.85ZM339.11 120.07H361.00V124.83H339.11ZM61.00 124.83H184.60V129.59H61.00ZM187.69 124.83H203.14V129.59H187.69ZM206.23 124.83H261.85V129.59H206.23ZM264.94 124.83H311.29V129.59H264.94ZM312.70 124.83H325.20V129.59H312.70ZM326.60 124.83H361.00V129.59H326.60ZM61.00 129.58H159.88V134.34H61.00ZM162.97 129.58H218.59V134.34H162.97ZM221.68 129.58H243.31V134.34H221.68ZM246.40 129.58H311.29V134.34H246.40ZM312.70 129.58H325.20V134.34H312.70ZM326.60 129.58H361.00V134.34H326.60ZM61.00 134.34H178.42V139.09H61.00ZM181.51 134.34H240.22V139.09H181.51ZM246.40 134.34H311.29V139.09H246.40ZM312.70 134.34H325.20V139.09H312.70ZM326.60 134.34H329.73V139.09H326.60ZM332.85 134.34H361.00V139.09H332.85ZM61.00 139.09H227.86V143.85H61.00ZM237.13 139.09H240.22V143.85H237.13ZM246.40 139.09H258.76V143.85H246.40ZM261.85 139.09H311.29V143.85H261.85ZM312.70 139.09H325.20V143.85H312.70ZM326.60 139.09H361.00V143.85H326.60ZM61.00 143.85H218.59V148.60H61.00ZM221.68 143.85H311.29V148.60H221.68ZM312.70 143.85H325.20V148.60H312.70ZM326.60 143.85H329.73V148.60H326.60ZM332.85 143.85H335.98V148.60H332.85ZM339.11 143.85H361.00V148.60H339.11ZM61.00 148.60H135.16V153.36H61.00ZM138.25 148.60H150.61V153.36H138.25ZM156.79 148.60H166.06V153.36H156.79ZM172.24 148.60H178.42V153.36H172.24ZM181.51 148.60H190.78V153.36H181.51ZM193.87 148.60H203.14V153.36H193.87ZM209.32 148.60H227.86V153.36H209.32ZM230.95 148.60H237.13V153.36H230.95ZM249.49 148.60H252.58V153.36H249.49ZM264.94 148.60H268.03V153.36H264.94ZM271.12 148.60H277.30V153.36H271.12ZM280.39 148.60H298.93V153.36H280.39ZM308.20 148.60H311.29V153.36H308.20ZM312.70 148.60H325.20V153.36H312.70ZM326.60 148.60H361.00V153.36H326.60ZM61.00 153.36H113.53V158.12H61.00ZM132.07 153.36H135.16V158.12H132.07ZM144.43 153.36H147.52V158.12H144.43ZM162.97 153.36H169.15V158.12H162.97ZM172.24 153.36H178.42V158.12H172.24ZM181.51 153.36H190.78V158.12H181.51ZM200.05 153.36H203.14V158.12H200.05ZM206.23 153.36H209.32V158.12H206.23ZM218.59 153.36H221.68V158.12H218.59ZM312.70 153.36H325.20V158.12H312.70ZM326.60 153.36H361.00V158.12H326.60ZM258.76 158.12H261.85V162.87H258.76ZM61.00 162.87H125.89V167.62H61.00ZM128.98 162.87H135.16V167.62H128.98ZM141.34 162.87H172.24V167.62H141.34ZM175.33 162.87H178.42V167.62H175.33ZM181.51 162.87H184.60V167.62H181.51ZM187.69 162.87H203.14V167.62H187.69ZM206.23 162.87H234.04V167.62H206.23ZM237.13 162.87H240.22V167.62H237.13ZM246.40 162.87H252.58V167.62H246.40ZM258.76 162.87H261.85V167.62H258.76ZM264.94 162.87H311.29V167.62H264.94ZM326.60 162.87H345.36V167.62H326.60ZM351.62 162.87H354.74V167.62H351.62ZM357.87 162.87H361.00V167.62H357.87ZM61.00 167.62H67.18V172.38H61.00ZM91.90 167.62H94.99V172.38H91.90ZM104.26 167.62H107.35V172.38H104.26ZM178.42 167.62H181.51V172.38H178.42ZM246.40 167.62H252.58V172.38H246.40ZM255.67 167.62H283.48V172.38H255.67ZM326.60 167.62H361.00V172.38H326.60ZM61.00 172.38H119.71V177.13H61.00ZM122.80 172.38H178.42V177.13H122.80ZM181.51 172.38H311.29V177.13H181.51ZM326.60 172.38H339.11V177.13H326.60ZM342.24 172.38H348.49V177.13H342.24ZM351.62 172.38H354.74V177.13H351.62ZM357.87 172.38H361.00V177.13H357.87ZM184.60 177.13H187.69V181.89H184.60ZM184.60 181.89H187.69V186.64H184.60ZM246.40 181.89H252.58V186.64H246.40ZM258.76 181.89H261.85V186.64H258.76ZM335.98 181.89H339.11V186.64H335.98ZM70.27 191.40H73.36V196.15H70.27ZM82.63 191.40H88.81V196.15H82.63ZM94.99 191.40H98.08V196.15H94.99ZM107.35 191.40H110.44V196.15H107.35ZM162.97 191.40H166.06V196.15H162.97ZM184.60 191.40H187.69V196.15H184.60ZM246.40 191.40H252.58V196.15H246.40ZM61.00 196.16H252.58V200.91H61.00ZM258.76 196.16H261.85V200.91H258.76ZM264.94 196.16H311.29V200.91H264.94ZM312.70 196.16H325.20V200.91H312.70ZM326.60 196.16H361.00V200.91H326.60ZM61.00 200.91H141.34V205.66H61.00ZM144.43 200.91H162.97V205.66H144.43ZM166.06 200.91H311.29V205.66H166.06ZM312.70 200.91H325.20V205.66H312.70ZM326.60 200.91H361.00V205.66H326.60ZM61.00 205.66H73.36V210.42H61.00ZM79.54 205.66H88.81V210.42H79.54ZM91.90 205.66H94.99V210.42H91.90ZM98.08 205.66H104.26V210.42H98.08ZM107.35 205.66H113.53V210.42H107.35ZM116.62 205.66H119.71V210.42H116.62ZM122.80 205.66H125.89V210.42H122.80ZM128.98 205.66H132.07V210.42H128.98ZM150.61 205.66H162.97V210.42H150.61ZM166.06 205.66H178.42V210.42H166.06ZM181.51 205.66H190.78V210.42H181.51ZM193.87 205.66H200.05V210.42H193.87ZM209.32 205.66H215.50V210.42H209.32ZM218.59 205.66H227.86V210.42H218.59ZM237.13 205.66H240.22V210.42H237.13ZM243.31 205.66H255.67V210.42H243.31ZM258.76 205.66H261.85V210.42H258.76ZM264.94 205.66H277.30V210.42H264.94ZM280.39 205.66H295.84V210.42H280.39ZM298.93 205.66H308.20V210.42H298.93ZM312.70 205.66H325.20V210.42H312.70ZM326.60 205.66H361.00V210.42H326.60ZM61.00 210.42H215.50V215.18H61.00ZM218.59 210.42H311.29V215.18H218.59ZM312.70 210.42H325.20V215.18H312.70ZM326.60 210.42H361.00V215.18H326.60ZM184.60 215.18H187.69V219.93H184.60ZM85.72 219.93H88.81V224.69H85.72ZM91.90 219.93H94.99V224.69H91.90ZM98.08 219.93H101.17V224.69H98.08ZM122.80 219.93H125.89V224.69H122.80ZM144.43 219.93H150.61V224.69H144.43ZM153.70 219.93H156.79V224.69H153.70ZM221.68 219.93H224.77V224.69H221.68ZM227.86 219.93H234.04V224.69H227.86ZM246.40 219.93H252.58V224.69H246.40ZM258.76 219.93H261.85V224.69H258.76ZM268.03 219.93H283.48V224.69H268.03ZM292.75 219.93H295.84V224.69H292.75ZM312.70 219.93H325.20V224.69H312.70ZM326.60 219.93H339.11V224.69H326.60ZM342.24 219.93H351.62V224.69H342.24ZM354.74 219.93H357.87V224.69H354.74ZM258.76 224.69H261.85V229.44H258.76ZM274.21 224.69H277.30V229.44H274.21ZM312.70 224.69H325.20V229.44H312.70ZM61.00 229.44H64.09V234.19H61.00ZM67.18 229.44H172.24V234.19H67.18ZM175.33 229.44H193.87V234.19H175.33ZM209.32 229.44H212.41V234.19H209.32ZM215.50 229.44H218.59V234.19H215.50ZM240.22 229.44H243.31V234.19H240.22ZM261.85 229.44H274.21V234.19H261.85ZM277.30 229.44H283.48V234.19H277.30ZM286.57 229.44H298.93V234.19H286.57ZM308.20 229.44H311.29V234.19H308.20ZM312.70 229.44H325.20V234.19H312.70ZM326.60 229.44H361.00V234.19H326.60ZM61.00 234.19H243.31V238.95H61.00ZM246.40 234.19H255.67V238.95H246.40ZM258.76 234.19H311.29V238.95H258.76ZM312.70 234.19H325.20V238.95H312.70ZM326.60 234.19H335.98V238.95H326.60ZM339.11 234.19H361.00V238.95H339.11ZM144.43 243.70H150.61V248.46H144.43ZM258.76 243.70H261.85V248.46H258.76ZM329.73 243.70H332.85V248.46H329.73ZM339.11 243.70H351.62V248.46H339.11ZM354.74 243.70H357.87V248.46H354.74ZM107.35 248.46H110.44V253.21H107.35ZM113.53 248.46H116.62V253.21H113.53ZM261.85 248.46H264.94V253.21H261.85ZM268.03 248.46H271.12V253.21H268.03ZM274.21 248.46H277.30V253.21H274.21ZM326.60 248.46H361.00V253.21H326.60ZM61.00 253.21H311.29V257.97H61.00ZM312.70 253.21H325.20V257.97H312.70ZM326.60 253.21H361.00V257.97H326.60ZM209.32 257.97H212.41V262.72H209.32ZM246.40 257.97H252.58V262.72H246.40ZM258.76 257.97H261.85V262.72H258.76ZM312.70 257.97H325.20V262.72H312.70ZM326.60 257.97H332.85V262.72H326.60ZM335.98 257.97H345.36V262.72H335.98ZM64.09 262.72H67.18V267.48H64.09ZM73.36 262.72H82.63V267.48H73.36ZM85.72 262.72H104.26V267.48H85.72ZM107.35 262.72H110.44V267.48H107.35ZM113.53 262.72H125.89V267.48H113.53ZM147.52 262.72H150.61V267.48H147.52ZM184.60 262.72H187.69V267.48H184.60ZM196.96 262.72H200.05V267.48H196.96ZM258.76 262.72H261.85V267.48H258.76ZM283.48 262.72H289.66V267.48H283.48ZM312.70 262.72H325.20V267.48H312.70ZM326.60 262.72H357.87V267.48H326.60ZM258.76 267.48H261.85V272.24H258.76ZM312.70 267.48H325.20V272.24H312.70ZM312.70 272.24H315.82V276.99H312.70ZM318.95 272.24H325.20V276.99H318.95ZM348.49 272.24H351.62V276.99H348.49ZM61.00 276.99H67.18V281.75H61.00ZM70.27 276.99H73.36V281.75H70.27ZM79.54 276.99H82.63V281.75H79.54ZM85.72 276.99H88.81V281.75H85.72ZM91.90 276.99H125.89V281.75H91.90ZM144.43 276.99H150.61V281.75H144.43ZM153.70 276.99H159.88V281.75H153.70ZM162.97 276.99H166.06V281.75H162.97ZM172.24 276.99H175.33V281.75H172.24ZM184.60 276.99H190.78V281.75H184.60ZM193.87 276.99H203.14V281.75H193.87ZM224.77 276.99H227.86V281.75H224.77ZM258.76 276.99H261.85V281.75H258.76ZM283.48 276.99H289.66V281.75H283.48ZM295.84 276.99H302.02V281.75H295.84ZM312.70 276.99H325.20V281.75H312.70ZM332.85 276.99H342.24V281.75H332.85ZM348.49 276.99H357.87V281.75H348.49ZM94.99 281.75H98.08V286.50H94.99ZM94.99 291.25H104.26V296.01H94.99ZM107.35 291.25H113.53V296.01H107.35ZM116.62 291.25H122.80V296.01H116.62ZM190.78 291.25H203.14V296.01H190.78ZM258.76 291.25H261.85V296.01H258.76ZM312.70 291.25H325.20V296.01H312.70ZM329.73 291.25H332.85V296.01H329.73ZM345.36 291.25H354.74V296.01H345.36ZM357.87 291.25H361.00V296.01H357.87ZM61.00 296.01H311.29V300.76H61.00ZM312.70 296.01H325.20V300.76H312.70ZM326.60 296.01H361.00V300.76H326.60ZM94.99 305.52H98.08V310.27H94.99ZM110.44 305.52H113.53V310.27H110.44ZM175.33 305.52H178.42V310.27H175.33ZM274.21 305.52H277.30V310.27H274.21ZM295.84 305.52H298.93V310.27H295.84ZM312.70 305.52H325.20V310.27H312.70ZM332.85 305.52H335.98V310.27H332.85ZM339.11 305.52H342.24V310.27H339.11ZM345.36 305.52H351.62V310.27H345.36ZM354.74 305.52H357.87V310.27H354.74ZM61.00 310.27H193.87V315.03H61.00ZM196.96 310.27H203.14V315.03H196.96ZM206.23 310.27H209.32V315.03H206.23ZM212.41 310.27H215.50V315.03H212.41ZM218.59 310.27H234.04V315.03H218.59ZM237.13 310.27H246.40V315.03H237.13ZM249.49 310.27H252.58V315.03H249.49ZM258.76 310.27H305.11V315.03H258.76ZM308.20 310.27H311.29V315.03H308.20ZM312.70 310.27H325.20V315.03H312.70ZM326.60 310.27H342.24V315.03H326.60ZM345.36 310.27H357.87V315.03H345.36ZM61.00 315.03H311.29V319.78H61.00ZM312.70 315.03H325.20V319.78H312.70ZM326.60 315.03H361.00V319.78H326.60ZM132.07 319.78H135.16V324.54H132.07ZM312.70 319.78H325.20V324.54H312.70ZM339.11 319.78H345.36V324.54H339.11ZM249.49 324.54H252.58V329.30H249.49ZM258.76 324.54H261.85V329.30H258.76ZM264.94 324.54H268.03V329.30H264.94ZM312.70 324.54H325.20V329.30H312.70ZM326.60 324.54H339.11V329.30H326.60ZM345.36 324.54H348.49V329.30H345.36ZM351.62 324.54H354.74V329.30H351.62ZM357.87 324.54H361.00V329.30H357.87ZM98.08 329.30H101.17V334.05H98.08ZM110.44 329.30H113.53V334.05H110.44ZM156.79 329.30H159.88V334.05H156.79ZM166.06 329.30H172.24V334.05H166.06ZM184.60 329.30H187.69V334.05H184.60ZM258.76 329.30H261.85V334.05H258.76ZM264.94 329.30H268.03V334.05H264.94ZM302.02 329.30H305.11V334.05H302.02ZM312.70 329.30H325.20V334.05H312.70ZM345.36 329.30H348.49V334.05H345.36ZM351.62 329.30H354.74V334.05H351.62ZM357.87 329.30H361.00V334.05H357.87ZM61.00 334.05H258.76V338.81H61.00ZM261.85 334.05H311.29V338.81H261.85ZM312.70 334.05H325.20V338.81H312.70ZM326.60 334.05H361.00V338.81H326.60ZM61.00 338.81H258.76V343.56H61.00ZM261.85 338.81H311.29V343.56H261.85ZM312.70 338.81H325.20V343.56H312.70ZM326.60 338.81H361.00V343.56H326.60ZM61.00 343.56H255.67V348.31H61.00ZM261.85 343.56H311.29V348.31H261.85ZM312.70 343.56H325.20V348.31H312.70ZM326.60 343.56H361.00V348.31H326.60ZM61.00 348.31H311.29V353.07H61.00ZM312.70 348.31H325.20V353.07H312.70ZM326.60 348.31H361.00V353.07H326.60ZM76.45 353.07H79.54V357.82H76.45ZM94.99 353.07H98.08V357.82H94.99ZM196.96 353.07H203.14V357.82H196.96ZM209.32 353.07H212.41V357.82H209.32ZM240.22 353.07H246.40V357.82H240.22ZM258.76 353.07H261.85V357.82H258.76ZM271.12 353.07H277.30V357.82H271.12ZM312.70 353.07H325.20V357.82H312.70ZM335.98 353.07H354.74V357.82H335.98ZM357.87 353.07H361.00V357.82H357.87ZM61.00 357.82H76.45V362.58H61.00ZM79.54 357.82H203.14V362.58H79.54ZM215.50 357.82H218.59V362.58H215.50ZM221.68 357.82H261.85V362.58H221.68ZM268.03 357.82H283.48V362.58H268.03ZM289.66 357.82H305.11V362.58H289.66ZM308.20 357.82H311.29V362.58H308.20ZM312.70 357.82H325.20V362.58H312.70ZM326.60 357.82H329.73V362.58H326.60ZM335.98 357.82H339.11V362.58H335.98ZM345.36 357.82H351.62V362.58H345.36ZM85.72 367.33H88.81V372.09H85.72ZM98.08 367.33H107.35V372.09H98.08ZM110.44 367.33H113.53V372.09H110.44ZM181.51 367.33H193.87V372.09H181.51ZM200.05 367.33H203.14V372.09H200.05ZM261.85 367.33H277.30V372.09H261.85ZM280.39 367.33H289.66V372.09H280.39ZM292.75 367.33H298.93V372.09H292.75ZM302.02 367.33H305.11V372.09H302.02ZM308.20 367.33H311.29V372.09H308.20ZM312.70 367.33H325.20V372.09H312.70ZM326.60 367.33H332.85V372.09H326.60ZM335.98 367.33H361.00V372.09H335.98ZM61.00 372.09H138.25V376.85H61.00ZM141.34 372.09H240.22V376.85H141.34ZM255.67 372.09H261.85V376.85H255.67ZM271.12 372.09H311.29V376.85H271.12ZM312.70 372.09H325.20V376.85H312.70ZM326.60 372.09H339.11V376.85H326.60ZM342.24 372.09H361.00V376.85H342.24ZM61.00 376.85H311.29V381.60H61.00ZM312.70 376.85H325.20V381.60H312.70ZM326.60 376.85H361.00V381.60H326.60ZM94.99 381.60H101.17V386.36H94.99ZM339.11 381.60H342.24V386.36H339.11ZM348.49 381.60H354.74V386.36H348.49ZM357.87 381.60H361.00V386.36H357.87ZM70.27 386.36H73.36V391.11H70.27ZM85.72 386.36H88.81V391.11H85.72ZM91.90 386.36H113.53V391.11H91.90ZM116.62 386.36H125.89V391.11H116.62ZM162.97 386.36H166.06V391.11H162.97ZM184.60 386.36H187.69V391.11H184.60ZM209.32 386.36H212.41V391.11H209.32ZM224.77 386.36H227.86V391.11H224.77ZM249.49 386.36H252.58V391.11H249.49ZM258.76 386.36H261.85V391.11H258.76ZM271.12 386.36H277.30V391.11H271.12ZM318.95 386.36H322.07V391.11H318.95ZM326.60 386.36H361.00V391.11H326.60ZM94.99 391.11H101.17V395.87H94.99ZM110.44 391.11H113.53V395.87H110.44ZM224.77 391.11H227.86V395.87H224.77ZM258.76 391.11H261.85V395.87H258.76ZM283.48 391.11H289.66V395.87H283.48ZM312.70 391.11H322.07V395.87H312.70ZM348.49 391.11H354.74V395.87H348.49ZM357.87 391.11H361.00V395.87H357.87ZM61.00 395.87H258.76V400.62H61.00ZM261.85 395.87H311.29V400.62H261.85ZM312.70 395.87H325.20V400.62H312.70ZM326.60 395.87H357.87V400.62H326.60ZM82.63 400.62H88.81V405.38H82.63ZM98.08 400.62H101.17V405.38H98.08ZM122.80 400.62H125.89V405.38H122.80ZM169.15 400.62H172.24V405.38H169.15ZM184.60 400.62H196.96V405.38H184.60ZM243.31 400.62H246.40V405.38H243.31ZM258.76 400.62H261.85V405.38H258.76ZM283.48 400.62H289.66V405.38H283.48ZM302.02 400.62H305.11V405.38H302.02ZM315.82 400.62H322.07V405.38H315.82ZM326.60 400.62H339.11V405.38H326.60ZM342.24 400.62H351.62V405.38H342.24ZM61.00 405.38H311.29V410.13H61.00ZM312.70 405.38H325.20V410.13H312.70ZM326.60 405.38H361.00V410.13H326.60ZM64.09 410.13H67.18V414.88H64.09ZM82.63 410.13H101.17V414.88H82.63ZM116.62 410.13H125.89V414.88H116.62ZM166.06 410.13H175.33V414.88H166.06ZM181.51 410.13H206.23V414.88H181.51ZM209.32 410.13H212.41V414.88H209.32ZM243.31 410.13H246.40V414.88H243.31ZM258.76 410.13H261.85V414.88H258.76ZM283.48 410.13H289.66V414.88H283.48ZM302.02 410.13H308.20V414.88H302.02ZM312.70 410.13H325.20V414.88H312.70ZM329.73 410.13H339.11V414.88H329.73ZM342.24 410.13H351.62V414.88H342.24ZM357.87 410.13H361.00V414.88H357.87ZM98.08 414.88H101.17V419.64H98.08ZM162.97 414.88H166.06V419.64H162.97ZM175.33 414.88H178.42V419.64H175.33ZM181.51 414.88H184.60V419.64H181.51ZM187.69 414.88H193.87V419.64H187.69ZM200.05 414.88H203.14V419.64H200.05ZM215.50 414.88H221.68V419.64H215.50ZM227.86 414.88H230.95V419.64H227.86ZM240.22 414.88H243.31V419.64H240.22ZM258.76 414.88H264.94V419.64H258.76ZM283.48 414.88H298.93V419.64H283.48ZM302.02 414.88H311.29V419.64H302.02ZM312.70 414.88H325.20V419.64H312.70ZM348.49 414.88H351.62V419.64H348.49ZM61.00 419.64H122.80V424.39H61.00ZM135.16 419.64H138.25V424.39H135.16ZM147.52 419.64H150.61V424.39H147.52ZM159.88 419.64H184.60V424.39H159.88ZM187.69 419.64H212.41V424.39H187.69ZM221.68 419.64H240.22V424.39H221.68ZM243.31 419.64H246.40V424.39H243.31ZM252.58 419.64H258.76V424.39H252.58ZM274.21 419.64H311.29V424.39H274.21ZM312.70 419.64H325.20V424.39H312.70ZM326.60 419.64H361.00V424.39H326.60ZM98.08 424.39H101.17V429.15H98.08ZM110.44 424.39H113.53V429.15H110.44ZM283.48 424.39H289.66V429.15H283.48ZM312.70 424.39H325.20V429.15H312.70ZM348.49 424.39H351.62V429.15H348.49ZM354.74 424.39H361.00V429.15H354.74ZM61.00 429.15H98.08V433.90H61.00ZM101.17 429.15H246.40V433.90H101.17ZM252.58 429.15H258.76V433.90H252.58ZM261.85 429.15H311.29V433.90H261.85ZM312.70 429.15H325.20V433.90H312.70ZM326.60 429.15H361.00V433.90H326.60ZM357.87 436.61H361.00V441.38H357.87ZM61.00 441.38H119.71V446.16H61.00ZM122.80 441.38H141.34V446.16H122.80ZM147.52 441.38H153.70V446.16H147.52ZM159.88 441.38H181.51V446.16H159.88ZM184.60 441.38H193.87V446.16H184.60ZM200.05 441.38H203.14V446.16H200.05ZM206.23 441.38H215.50V446.16H206.23ZM221.68 441.38H246.40V446.16H221.68ZM255.67 441.38H258.76V446.16H255.67ZM264.94 441.38H274.21V446.16H264.94ZM277.30 441.38H311.29V446.16H277.30ZM312.70 441.38H318.95V446.16H312.70ZM322.07 441.38H325.20V446.16H322.07ZM326.60 441.38H342.24V446.16H326.60ZM345.36 441.38H361.00V446.16H345.36ZM280.39 455.73H283.48V460.50H280.39ZM312.70 455.73H325.20V460.50H312.70ZM351.62 455.73H354.74V460.50H351.62ZM357.87 455.73H361.00V460.50H357.87ZM280.39 465.29H283.48V470.06H280.39ZM332.85 465.29H335.98V470.06H332.85ZM345.36 465.29H361.00V470.06H345.36ZM135.16 470.06H138.25V474.84H135.16ZM312.70 470.06H315.82V474.84H312.70ZM318.95 470.06H325.20V474.84H318.95ZM326.60 470.06H335.98V474.84H326.60ZM339.11 470.06H342.24V474.84H339.11ZM122.80 474.85H125.89V479.62H122.80ZM181.51 474.85H184.60V479.62H181.51ZM209.32 474.85H212.41V479.62H209.32ZM215.50 474.85H218.59V479.62H215.50ZM246.40 474.85H252.58V479.62H246.40ZM258.76 474.85H268.03V479.62H258.76ZM271.12 474.85H274.21V479.62H271.12ZM277.30 474.85H283.48V479.62H277.30ZM312.70 474.85H322.07V479.62H312.70ZM326.60 474.85H335.98V479.62H326.60ZM345.36 474.85H361.00V479.62H345.36ZM280.39 479.62H283.48V484.40H280.39ZM348.49 479.62H351.62V484.40H348.49ZM61.00 484.41H181.51V489.19H61.00ZM184.60 484.41H311.29V489.19H184.60ZM312.70 484.41H325.20V489.19H312.70ZM326.60 484.41H361.00V489.19H326.60ZM79.54 489.19H82.63V493.96H79.54ZM85.72 489.19H91.90V493.96H85.72ZM94.99 489.19H98.08V493.96H94.99ZM101.17 489.19H107.35V493.96H101.17ZM113.53 489.19H122.80V493.96H113.53ZM135.16 489.19H141.34V493.96H135.16ZM172.24 489.19H206.23V493.96H172.24ZM209.32 489.19H218.59V493.96H209.32ZM230.95 489.19H234.04V493.96H230.95ZM237.13 489.19H240.22V493.96H237.13ZM243.31 489.19H246.40V493.96H243.31ZM252.58 489.19H258.76V493.96H252.58ZM261.85 489.19H271.12V493.96H261.85ZM274.21 489.19H289.66V493.96H274.21ZM292.75 489.19H302.02V493.96H292.75ZM312.70 489.19H325.20V493.96H312.70ZM326.60 489.19H339.11V493.96H326.60ZM342.24 489.19H361.00V493.96H342.24ZM76.45 493.97H88.81V498.75H76.45ZM98.08 493.97H104.26V498.75H98.08ZM113.53 493.97H122.80V498.75H113.53ZM261.85 493.97H264.94V498.75H261.85ZM280.39 493.97H289.66V498.75H280.39ZM298.93 493.97H302.02V498.75H298.93ZM312.70 493.97H325.20V498.75H312.70ZM326.60 493.97H339.11V498.75H326.60ZM345.36 493.97H361.00V498.75H345.36ZM357.87 498.75H361.00V503.52H357.87ZM255.67 503.53H258.76V508.31H255.67ZM261.85 503.53H268.03V508.31H261.85ZM322.07 503.53H325.20V508.31H322.07ZM326.60 503.53H332.85V508.31H326.60ZM339.11 503.53H361.00V508.31H339.11ZM61.00 508.31H94.99V513.09H61.00ZM98.08 508.31H110.44V513.09H98.08ZM113.53 508.31H116.62V513.09H113.53ZM119.71 508.31H122.80V513.09H119.71ZM125.89 508.31H166.06V513.09H125.89ZM172.24 508.31H175.33V513.09H172.24ZM181.51 508.31H184.60V513.09H181.51ZM190.78 508.31H196.96V513.09H190.78ZM203.14 508.31H224.77V513.09H203.14ZM227.86 508.31H234.04V513.09H227.86ZM240.22 508.31H243.31V513.09H240.22ZM252.58 508.31H255.67V513.09H252.58ZM264.94 508.31H268.03V513.09H264.94ZM271.12 508.31H280.39V513.09H271.12ZM283.48 508.31H302.02V513.09H283.48ZM305.11 508.31H311.29V513.09H305.11ZM312.70 508.31H325.20V513.09H312.70ZM326.60 508.31H335.98V513.09H326.60ZM339.11 508.31H361.00V513.09H339.11ZM258.76 513.09H261.85V517.87H258.76ZM348.49 513.09H361.00V517.87H348.49ZM61.00 517.87H215.50V522.64H61.00ZM218.59 517.87H311.29V522.64H218.59ZM312.70 517.87H325.20V522.64H312.70ZM326.60 517.87H361.00V522.64H326.60ZM94.99 522.64H98.08V527.42H94.99ZM181.51 522.64H187.69V527.42H181.51ZM264.94 522.64H268.03V527.42H264.94ZM329.73 522.64H332.85V527.42H329.73ZM335.98 522.64H342.24V527.42H335.98ZM61.00 527.43H147.52V532.21H61.00ZM150.61 527.43H181.51V532.21H150.61ZM184.60 527.43H215.50V532.21H184.60ZM218.59 527.43H237.13V532.21H218.59ZM240.22 527.43H311.29V532.21H240.22ZM312.70 527.43H325.20V532.21H312.70ZM326.60 527.43H361.00V532.21H326.60ZM67.18 532.21H70.27V536.99H67.18ZM73.36 532.21H85.72V536.99H73.36ZM94.99 532.21H107.35V536.99H94.99ZM113.53 532.21H122.80V536.99H113.53ZM125.89 532.21H128.98V536.99H125.89ZM135.16 532.21H144.43V536.99H135.16ZM169.15 532.21H175.33V536.99H169.15ZM181.51 532.21H193.87V536.99H181.51ZM206.23 532.21H209.32V536.99H206.23ZM218.59 532.21H224.77V536.99H218.59ZM227.86 532.21H230.95V536.99H227.86ZM243.31 532.21H246.40V536.99H243.31ZM261.85 532.21H264.94V536.99H261.85ZM283.48 532.21H295.84V536.99H283.48ZM305.11 532.21H311.29V536.99H305.11ZM312.70 532.21H325.20V536.99H312.70ZM326.60 532.21H335.98V536.99H326.60ZM339.11 532.21H342.24V536.99H339.11ZM345.36 532.21H361.00V536.99H345.36ZM61.00 536.99H88.81V541.76H61.00ZM91.90 536.99H94.99V541.76H91.90ZM98.08 536.99H119.71V541.76H98.08ZM122.80 536.99H138.25V541.76H122.80ZM144.43 536.99H147.52V541.76H144.43ZM156.79 536.99H159.88V541.76H156.79ZM193.87 536.99H203.14V541.76H193.87ZM209.32 536.99H212.41V541.76H209.32ZM218.59 536.99H246.40V541.76H218.59ZM252.58 536.99H255.67V541.76H252.58ZM264.94 536.99H268.03V541.76H264.94ZM271.12 536.99H295.84V541.76H271.12ZM298.93 536.99H311.29V541.76H298.93ZM312.70 536.99H315.82V541.76H312.70ZM326.60 536.99H342.24V541.76H326.60ZM345.36 536.99H361.00V541.76H345.36ZM61.00 541.76H85.72V546.54H61.00ZM88.81 541.76H125.89V546.54H88.81ZM128.98 541.76H132.07V546.54H128.98ZM144.43 541.76H147.52V546.54H144.43ZM159.88 541.76H166.06V546.54H159.88ZM172.24 541.76H178.42V546.54H172.24ZM184.60 541.76H203.14V546.54H184.60ZM206.23 541.76H215.50V546.54H206.23ZM221.68 541.76H246.40V546.54H221.68ZM255.67 541.76H258.76V546.54H255.67ZM264.94 541.76H268.03V546.54H264.94ZM271.12 541.76H292.75V546.54H271.12ZM295.84 541.76H311.29V546.54H295.84ZM312.70 541.76H315.82V546.54H312.70ZM322.07 541.76H325.20V546.54H322.07ZM326.60 541.76H361.00V546.54H326.60Z"/>
<path fill="#fdfb9a" d="M184.60 96.30H193.87V101.05H184.60ZM82.63 101.05H85.72V105.81H82.63ZM88.81 101.05H94.99V105.81H88.81ZM175.33 101.05H178.42V105.81H175.33ZM184.60 101.05H193.87V105.81H184.60ZM196.96 101.05H203.14V105.81H196.96ZM218.59 101.05H221.68V105.81H218.59ZM271.12 101.05H274.21V105.81H271.12ZM277.30 101.05H280.39V105.81H277.30ZM88.81 105.81H94.99V110.56H88.81ZM175.33 105.81H178.42V110.56H175.33ZM184.60 105.81H193.87V110.56H184.60ZM196.96 105.81H203.14V110.56H196.96ZM218.59 105.81H221.68V110.56H218.59ZM271.12 105.81H274.21V110.56H271.12ZM88.81 110.56H94.99V115.32H88.81ZM175.33 110.56H178.42V115.32H175.33ZM184.60 110.56H193.87V115.32H184.60ZM196.96 110.56H203.14V115.32H196.96ZM218.59 110.56H221.68V115.32H218.59ZM277.30 110.56H280.39V115.32H277.30ZM277.30 115.32H280.39V120.07H277.30ZM357.87 115.32H361.00V120.07H357.87ZM88.81 120.07H91.90V124.83H88.81ZM187.69 120.07H193.87V124.83H187.69ZM196.96 120.07H200.05V124.83H196.96ZM218.59 120.07H221.68V124.83H218.59ZM271.12 120.07H274.21V124.83H271.12ZM203.14 124.83H206.23V129.59H203.14ZM218.59 129.58H221.68V134.34H218.59ZM178.42 134.34H181.51V139.09H178.42ZM240.22 134.34H246.40V139.09H240.22ZM227.86 139.09H237.13V143.85H227.86ZM240.22 139.09H246.40V143.85H240.22ZM218.59 143.85H221.68V148.60H218.59ZM190.78 148.60H193.87V153.36H190.78ZM206.23 148.60H209.32V153.36H206.23ZM240.22 148.60H243.31V153.36H240.22ZM113.53 153.36H119.71V158.12H113.53ZM122.80 153.36H125.89V158.12H122.80ZM169.15 153.36H172.24V158.12H169.15ZM190.78 153.36H200.05V158.12H190.78ZM209.32 153.36H218.59V158.12H209.32ZM237.13 153.36H240.22V158.12H237.13ZM249.49 153.36H252.58V158.12H249.49ZM277.30 153.36H305.11V158.12H277.30ZM88.81 158.12H91.90V162.87H88.81ZM181.51 158.12H184.60V162.87H181.51ZM187.69 158.12H193.87V162.87H187.69ZM218.59 158.12H221.68V162.87H218.59ZM125.89 162.87H128.98V167.62H125.89ZM135.16 162.87H138.25V167.62H135.16ZM172.24 162.87H175.33V167.62H172.24ZM234.04 162.87H237.13V167.62H234.04ZM345.36 162.87H351.62V167.62H345.36ZM354.74 162.87H357.87V167.62H354.74ZM88.81 167.62H91.90V172.38H88.81ZM110.44 167.62H113.53V172.38H110.44ZM135.16 167.62H138.25V172.38H135.16ZM166.06 167.62H169.15V172.38H166.06ZM187.69 167.62H203.14V172.38H187.69ZM209.32 167.62H212.41V172.38H209.32ZM218.59 167.62H221.68V172.38H218.59ZM178.42 172.38H181.51V177.13H178.42ZM88.81 177.13H94.99V181.89H88.81ZM187.69 177.13H193.87V181.89H187.69ZM218.59 177.13H221.68V181.89H218.59ZM88.81 181.89H94.99V186.64H88.81ZM187.69 181.89H193.87V186.64H187.69ZM218.59 181.89H221.68V186.64H218.59ZM88.81 186.64H94.99V191.40H88.81ZM187.69 186.64H193.87V191.40H187.69ZM218.59 186.64H221.68V191.40H218.59ZM101.17 191.40H107.35V196.15H101.17ZM187.69 191.40H193.87V196.15H187.69ZM200.05 191.40H203.14V196.15H200.05ZM212.41 191.40H215.50V196.15H212.41ZM277.30 191.40H280.39V196.15H277.30ZM351.62 191.40H354.74V196.15H351.62ZM252.58 196.16H255.67V200.91H252.58ZM141.34 200.91H144.43V205.66H141.34ZM162.97 200.91H166.06V205.66H162.97ZM104.26 205.66H107.35V210.42H104.26ZM119.71 205.66H122.80V210.42H119.71ZM138.25 205.66H141.34V210.42H138.25ZM162.97 205.66H166.06V210.42H162.97ZM190.78 205.66H193.87V210.42H190.78ZM200.05 205.66H203.14V210.42H200.05ZM215.50 205.66H218.59V210.42H215.50ZM240.22 205.66H243.31V210.42H240.22ZM215.50 210.42H218.59V215.18H215.50ZM187.69 215.18H190.78V219.93H187.69ZM218.59 215.18H221.68V219.93H218.59ZM88.81 219.93H91.90V224.69H88.81ZM184.60 219.93H190.78V224.69H184.60ZM206.23 219.93H209.32V224.69H206.23ZM305.11 219.93H308.20V224.69H305.11ZM339.11 219.93H342.24V224.69H339.11ZM357.87 219.93H361.00V224.69H357.87ZM88.81 224.69H91.90V229.44H88.81ZM187.69 224.69H193.87V229.44H187.69ZM200.05 229.44H203.14V234.19H200.05ZM206.23 229.44H209.32V234.19H206.23ZM212.41 229.44H215.50V234.19H212.41ZM218.59 229.44H240.22V234.19H218.59ZM243.31 229.44H246.40V234.19H243.31ZM249.49 229.44H255.67V234.19H249.49ZM283.48 229.44H286.57V234.19H283.48ZM243.31 234.19H246.40V238.95H243.31ZM255.67 234.19H258.76V238.95H255.67ZM335.98 243.70H339.11V248.46H335.98ZM70.27 248.46H73.36V253.21H70.27ZM91.90 257.97H94.99V262.72H91.90ZM187.69 257.97H190.78V262.72H187.69ZM196.96 257.97H200.05V262.72H196.96ZM212.41 257.97H215.50V262.72H212.41ZM104.26 262.72H107.35V267.48H104.26ZM141.34 262.72H144.43V267.48H141.34ZM172.24 262.72H175.33V267.48H172.24ZM181.51 262.72H184.60V267.48H181.51ZM187.69 262.72H193.87V267.48H187.69ZM200.05 262.72H203.14V267.48H200.05ZM212.41 262.72H218.59V267.48H212.41ZM264.94 262.72H268.03V267.48H264.94ZM274.21 262.72H277.30V267.48H274.21ZM280.39 262.72H283.48V267.48H280.39ZM308.20 262.72H311.29V267.48H308.20ZM357.87 262.72H361.00V267.48H357.87ZM190.78 267.48H193.87V272.24H190.78ZM196.96 267.48H200.05V272.24H196.96ZM335.98 267.48H339.11V272.24H335.98ZM190.78 272.24H193.87V276.99H190.78ZM315.82 272.24H318.95V276.99H315.82ZM138.25 276.99H144.43V281.75H138.25ZM175.33 276.99H178.42V281.75H175.33ZM181.51 276.99H184.60V281.75H181.51ZM190.78 276.99H193.87V281.75H190.78ZM209.32 276.99H215.50V281.75H209.32ZM218.59 276.99H221.68V281.75H218.59ZM237.13 276.99H240.22V281.75H237.13ZM280.39 276.99H283.48V281.75H280.39ZM308.20 276.99H311.29V281.75H308.20ZM345.36 276.99H348.49V281.75H345.36ZM357.87 276.99H361.00V281.75H357.87ZM190.78 281.75H193.87V286.50H190.78ZM351.62 281.75H354.74V286.50H351.62ZM357.87 281.75H361.00V286.50H357.87ZM190.78 286.50H193.87V291.25H190.78ZM122.80 291.25H125.89V296.01H122.80ZM187.69 291.25H190.78V296.01H187.69ZM203.14 291.25H206.23V296.01H203.14ZM237.13 291.25H240.22V296.01H237.13ZM280.39 291.25H283.48V296.01H280.39ZM298.93 291.25H302.02V296.01H298.93ZM339.11 291.25H345.36V296.01H339.11ZM187.69 300.76H190.78V305.52H187.69ZM209.32 300.76H212.41V305.52H209.32ZM218.59 300.76H221.68V305.52H218.59ZM318.95 300.76H325.20V305.52H318.95ZM122.80 305.52H125.89V310.27H122.80ZM181.51 305.52H184.60V310.27H181.51ZM187.69 305.52H193.87V310.27H187.69ZM200.05 305.52H203.14V310.27H200.05ZM249.49 305.52H252.58V310.27H249.49ZM264.94 305.52H268.03V310.27H264.94ZM326.60 305.52H329.73V310.27H326.60ZM335.98 305.52H339.11V310.27H335.98ZM342.24 305.52H345.36V310.27H342.24ZM357.87 305.52H361.00V310.27H357.87ZM193.87 310.27H196.96V315.03H193.87ZM203.14 310.27H206.23V315.03H203.14ZM215.50 310.27H218.59V315.03H215.50ZM234.04 310.27H237.13V315.03H234.04ZM246.40 310.27H249.49V315.03H246.40ZM252.58 310.27H258.76V315.03H252.58ZM305.11 310.27H308.20V315.03H305.11ZM342.24 310.27H345.36V315.03H342.24ZM357.87 310.27H361.00V315.03H357.87ZM187.69 319.78H193.87V324.54H187.69ZM209.32 319.78H212.41V324.54H209.32ZM351.62 319.78H354.74V324.54H351.62ZM187.69 324.54H193.87V329.30H187.69ZM246.40 324.54H249.49V329.30H246.40ZM342.24 324.54H345.36V329.30H342.24ZM61.00 329.30H70.27V334.05H61.00ZM116.62 329.30H119.71V334.05H116.62ZM153.70 329.30H156.79V334.05H153.70ZM187.69 329.30H190.78V334.05H187.69ZM200.05 329.30H203.14V334.05H200.05ZM218.59 329.30H221.68V334.05H218.59ZM237.13 329.30H240.22V334.05H237.13ZM277.30 329.30H283.48V334.05H277.30ZM289.66 329.30H292.75V334.05H289.66ZM298.93 329.30H302.02V334.05H298.93ZM326.60 329.30H329.73V334.05H326.60ZM332.85 329.30H339.11V334.05H332.85ZM110.44 353.07H113.53V357.82H110.44ZM119.71 353.07H125.89V357.82H119.71ZM138.25 353.07H141.34V357.82H138.25ZM156.79 353.07H159.88V357.82H156.79ZM166.06 353.07H178.42V357.82H166.06ZM181.51 353.07H196.96V357.82H181.51ZM203.14 353.07H206.23V357.82H203.14ZM215.50 353.07H224.77V357.82H215.50ZM280.39 353.07H289.66V357.82H280.39ZM326.60 353.07H332.85V357.82H326.60ZM203.14 357.82H215.50V362.58H203.14ZM218.59 357.82H221.68V362.58H218.59ZM264.94 357.82H268.03V362.58H264.94ZM283.48 357.82H289.66V362.58H283.48ZM329.73 357.82H335.98V362.58H329.73ZM342.24 357.82H345.36V362.58H342.24ZM351.62 357.82H361.00V362.58H351.62ZM190.78 362.58H193.87V367.33H190.78ZM107.35 367.33H110.44V372.09H107.35ZM113.53 367.33H125.89V372.09H113.53ZM212.41 367.33H215.50V372.09H212.41ZM218.59 367.33H221.68V372.09H218.59ZM277.30 367.33H280.39V372.09H277.30ZM332.85 367.33H335.98V372.09H332.85ZM138.25 372.09H141.34V376.85H138.25ZM240.22 372.09H243.31V376.85H240.22ZM246.40 372.09H249.49V376.85H246.40ZM252.58 372.09H255.67V376.85H252.58ZM339.11 372.09H342.24V376.85H339.11ZM184.60 381.60H187.69V386.36H184.60ZM190.78 381.60H193.87V386.36H190.78ZM209.32 381.60H212.41V386.36H209.32ZM342.24 381.60H345.36V386.36H342.24ZM172.24 386.36H175.33V391.11H172.24ZM187.69 386.36H203.14V391.11H187.69ZM206.23 386.36H209.32V391.11H206.23ZM212.41 386.36H215.50V391.11H212.41ZM218.59 386.36H221.68V391.11H218.59ZM237.13 386.36H240.22V391.11H237.13ZM280.39 386.36H283.48V391.11H280.39ZM70.27 391.11H79.54V395.87H70.27ZM113.53 391.11H116.62V395.87H113.53ZM119.71 391.11H125.89V395.87H119.71ZM138.25 391.11H141.34V395.87H138.25ZM159.88 391.11H162.97V395.87H159.88ZM166.06 391.11H175.33V395.87H166.06ZM184.60 391.11H203.14V395.87H184.60ZM206.23 391.11H209.32V395.87H206.23ZM215.50 391.11H218.59V395.87H215.50ZM255.67 391.11H258.76V395.87H255.67ZM280.39 391.11H283.48V395.87H280.39ZM322.07 391.11H325.20V395.87H322.07ZM326.60 391.11H329.73V395.87H326.60ZM335.98 391.11H339.11V395.87H335.98ZM357.87 395.87H361.00V400.62H357.87ZM88.81 400.62H94.99V405.38H88.81ZM101.17 400.62H104.26V405.38H101.17ZM107.35 400.62H113.53V405.38H107.35ZM116.62 400.62H122.80V405.38H116.62ZM166.06 400.62H169.15V405.38H166.06ZM172.24 400.62H175.33V405.38H172.24ZM181.51 400.62H184.60V405.38H181.51ZM196.96 400.62H203.14V405.38H196.96ZM280.39 400.62H283.48V405.38H280.39ZM322.07 400.62H325.20V405.38H322.07ZM351.62 400.62H361.00V405.38H351.62ZM101.17 410.13H113.53V414.88H101.17ZM212.41 410.13H215.50V414.88H212.41ZM252.58 410.13H258.76V414.88H252.58ZM274.21 410.13H283.48V414.88H274.21ZM326.60 410.13H329.73V414.88H326.60ZM339.11 410.13H342.24V414.88H339.11ZM351.62 410.13H357.87V414.88H351.62ZM61.00 414.88H82.63V419.64H61.00ZM88.81 414.88H94.99V419.64H88.81ZM107.35 414.88H122.80V419.64H107.35ZM132.07 414.88H138.25V419.64H132.07ZM141.34 414.88H144.43V419.64H141.34ZM166.06 414.88H175.33V419.64H166.06ZM184.60 414.88H187.69V419.64H184.60ZM193.87 414.88H200.05V419.64H193.87ZM206.23 414.88H209.32V419.64H206.23ZM212.41 414.88H215.50V419.64H212.41ZM221.68 414.88H227.86V419.64H221.68ZM234.04 414.88H240.22V419.64H234.04ZM268.03 414.88H271.12V419.64H268.03ZM274.21 414.88H280.39V419.64H274.21ZM326.60 414.88H329.73V419.64H326.60ZM332.85 414.88H339.11V419.64H332.85ZM345.36 414.88H348.49V419.64H345.36ZM354.74 414.88H357.87V419.64H354.74ZM141.34 419.64H144.43V424.39H141.34ZM184.60 419.64H187.69V424.39H184.60ZM212.41 419.64H221.68V424.39H212.41ZM240.22 419.64H243.31V424.39H240.22ZM91.90 424.39H94.99V429.15H91.90ZM119.71 424.39H122.80V429.15H119.71ZM169.15 424.39H172.24V429.15H169.15ZM184.60 424.39H187.69V429.15H184.60ZM190.78 424.39H203.14V429.15H190.78ZM212.41 424.39H215.50V429.15H212.41ZM326.60 424.39H329.73V429.15H326.60ZM332.85 424.39H339.11V429.15H332.85ZM345.36 424.39H348.49V429.15H345.36ZM351.62 424.39H354.74V429.15H351.62ZM280.39 436.61H283.48V441.38H280.39ZM196.96 441.38H200.05V446.16H196.96ZM318.95 441.38H322.07V446.16H318.95ZM342.24 441.38H345.36V446.16H342.24ZM348.49 460.50H351.62V465.28H348.49ZM339.11 465.29H342.24V470.06H339.11ZM335.98 470.06H339.11V474.84H335.98ZM172.24 474.85H175.33V479.62H172.24ZM322.07 474.85H325.20V479.62H322.07ZM339.11 474.85H342.24V479.62H339.11ZM122.80 479.62H125.89V484.40H122.80ZM357.87 479.62H361.00V484.40H357.87ZM181.51 484.41H184.60V489.19H181.51ZM67.18 489.19H70.27V493.96H67.18ZM91.90 489.19H94.99V493.96H91.90ZM107.35 489.19H110.44V493.96H107.35ZM122.80 489.19H125.89V493.96H122.80ZM162.97 489.19H166.06V493.96H162.97ZM308.20 489.19H311.29V493.96H308.20ZM339.11 489.19H342.24V493.96H339.11ZM215.50 493.97H218.59V498.75H215.50ZM122.80 498.75H125.89V503.52H122.80ZM280.39 498.75H283.48V503.52H280.39ZM175.33 508.31H178.42V513.09H175.33ZM200.05 508.31H203.14V513.09H200.05ZM342.24 513.09H345.36V517.87H342.24ZM215.50 517.87H218.59V522.64H215.50ZM215.50 522.64H218.59V527.42H215.50ZM332.85 522.64H335.98V527.42H332.85ZM237.13 527.43H240.22V532.21H237.13ZM215.50 532.21H218.59V536.99H215.50ZM88.81 536.99H91.90V541.76H88.81ZM159.88 536.99H178.42V541.76H159.88ZM187.69 536.99H193.87V541.76H187.69ZM206.23 536.99H209.32V541.76H206.23ZM212.41 536.99H215.50V541.76H212.41ZM255.67 536.99H258.76V541.76H255.67ZM318.95 541.76H322.07V546.54H318.95Z"/>
<rect x="311.30" y="95.80" width="1.40" height="451.24" fill="#fff"/>
<rect x="325.20" y="95.80" width="1.40" height="451.24" fill="#fff"/>
<g font-family="Liberation Sans, Arial, sans-serif" font-size="4.65" fill="#000" stroke="#000" stroke-width="0.06" text-anchor="end">
<text transform="translate(55.30 100.35) scale(0.892 1)">Dextrin</text>
<text transform="translate(55.30 105.11) scale(0.892 1)">D-Maltose</text>
<text transform="translate(55.30 109.86) scale(0.892 1)">D-Trehalose</text>
<text transform="translate(55.30 114.62) scale(0.892 1)">D-Cellobiose</text>
<text transform="translate(55.30 119.37) scale(0.892 1)">Gentiobiose</text>
<text transform="translate(55.30 124.13) scale(0.892 1)">Sucrose</text>
<text transform="translate(55.30 128.88) scale(0.892 1)">D-Turanose</text>
<text transform="translate(55.30 133.64) scale(0.892 1)">Stachyose</text>
<text transform="translate(55.30 138.39) scale(0.892 1)">D-Raffinose</text>
<text transform="translate(55.30 143.15) scale(0.892 1)">α-D-Lactose</text>
<text transform="translate(55.30 147.90) scale(0.892 1)">D-Melibiose</text>
<text transform="translate(55.30 152.66) scale(0.892 1)">β-Methyl-DGlucoside</text>
<text transform="translate(55.30 157.41) scale(0.892 1)">D-Salicin</text>
<text transform="translate(55.30 162.17) scale(0.892 1)">N-Acetyl-DGlucosamine</text>
<text transform="translate(55.30 166.92) scale(0.892 1)">N-Acetyl-β-DMannosamine</text>
<text transform="translate(55.30 171.68) scale(0.892 1)">N-Acetyl-DGalactosamine</text>
<text transform="translate(55.30 176.43) scale(0.892 1)">N-Acetyl Neuraminic Acid</text>
<text transform="translate(55.30 181.19) scale(0.892 1)">α-D-Glucose</text>
<text transform="translate(55.30 185.94) scale(0.892 1)">D-Mannose</text>
<text transform="translate(55.30 190.70) scale(0.892 1)">D-Fructose</text>
<text transform="translate(55.30 195.45) scale(0.892 1)">D-Galactose</text>
<text transform="translate(55.30 200.21) scale(0.892 1)">3-Methyl Glucose</text>
<text transform="translate(55.30 204.96) scale(0.892 1)">D-Fucose</text>
<text transform="translate(55.30 209.72) scale(0.892 1)">L-Fucose</text>
<text transform="translate(55.30 214.47) scale(0.892 1)">L-Rhamnose</text>
<text transform="translate(55.30 219.23) scale(0.892 1)">Inosine</text>
<text transform="translate(55.30 223.98) scale(0.892 1)">D-Sorbitol</text>
<text transform="translate(55.30 228.74) scale(0.892 1)">D-Mannitol</text>
<text transform="translate(55.30 233.49) scale(0.892 1)">D-Arabitol</text>
<text transform="translate(55.30 238.25) scale(0.892 1)">myo-Inositol</text>
<text transform="translate(55.30 243.00) scale(0.892 1)">Glycerol</text>
<text transform="translate(55.30 247.76) scale(0.892 1)">D-Glucose-6-PO4</text>
<text transform="translate(55.30 252.51) scale(0.892 1)">D-Fructose-6-PO4</text>
<text transform="translate(55.30 257.27) scale(0.892 1)">D-Aspartic Acid</text>
<text transform="translate(55.30 262.02) scale(0.892 1)">D-Serine</text>
<text transform="translate(55.30 266.78) scale(0.892 1)">Gelatin</text>
<text transform="translate(55.30 271.53) scale(0.892 1)">Glycyl-L-Proline</text>
<text transform="translate(55.30 276.29) scale(0.892 1)">L-Alanine</text>
<text transform="translate(55.30 281.04) scale(0.892 1)">L-Arginine</text>
<text transform="translate(55.30 285.80) scale(0.892 1)">L-Aspartic Acid</text>
<text transform="translate(55.30 290.55) scale(0.892 1)">L-Glutamic Acid</text>
<text transform="translate(55.30 295.31) scale(0.892 1)">L-Histidine</text>
<text transform="translate(55.30 300.06) scale(0.892 1)">L-Pyroglutamic Acid</text>
<text transform="translate(55.30 304.82) scale(0.892 1)">L-Serine</text>
<text transform="translate(55.30 309.57) scale(0.892 1)">Pectin</text>
<text transform="translate(55.30 314.33) scale(0.892 1)">D-Galacturonic Acid</text>
<text transform="translate(55.30 319.08) scale(0.892 1)">L-Galactonic Acid Lactone</text>
<text transform="translate(55.30 323.84) scale(0.892 1)">D-Gluconic Acid</text>
<text transform="translate(55.30 328.59) scale(0.892 1)">D-Glucuronic Acid</text>
<text transform="translate(55.30 333.35) scale(0.892 1)">Glucuronamide</text>
<text transform="translate(55.30 338.10) scale(0.892 1)">Mucic Acid</text>
<text transform="translate(55.30 342.86) scale(0.892 1)">Quinic Acid</text>
<text transform="translate(55.30 347.61) scale(0.892 1)">D-Saccharic Acid</text>
<text transform="translate(55.30 352.37) scale(0.892 1)">p-Hydroxy-Phenylacetic Acid</text>
<text transform="translate(55.30 357.12) scale(0.892 1)">Methyl Pyruvate</text>
<text transform="translate(55.30 361.88) scale(0.892 1)">D-Lactic Acid Methyl Ester</text>
<text transform="translate(55.30 366.63) scale(0.892 1)">L-Lactic Acid</text>
<text transform="translate(55.30 371.39) scale(0.892 1)">Citric Acid</text>
<text transform="translate(55.30 376.14) scale(0.892 1)">α-Keto-Glutaric Acid</text>
<text transform="translate(55.30 380.90) scale(0.892 1)">D-Malic Acid</text>
<text transform="translate(55.30 385.65) scale(0.892 1)">L-Malic Acid</text>
<text transform="translate(55.30 390.41) scale(0.892 1)">Bromo-Succinic Acid</text>
<text transform="translate(55.30 395.16) scale(0.892 1)">Tween 40</text>
<text transform="translate(55.30 399.92) scale(0.892 1)">γ-Amino-Butyric Acid</text>
<text transform="translate(55.30 404.67) scale(0.892 1)">α-HydroxyButyric Acid</text>
<text transform="translate(55.30 409.43) scale(0.892 1)">β-Hydroxy-D,LButyric Acid</text>
<text transform="translate(55.30 414.18) scale(0.892 1)">α-Keto-Butyric Acid</text>
<text transform="translate(55.30 418.94) scale(0.892 1)">Acetoacetic Acid</text>
<text transform="translate(55.30 423.69) scale(0.892 1)">Propionic Acid</text>
<text transform="translate(55.30 428.45) scale(0.892 1)">Acetic Acid</text>
<text transform="translate(55.30 433.20) scale(0.892 1)">Formic Acid</text>
<text transform="translate(55.30 440.66) scale(0.892 1)">pH 6</text>
<text transform="translate(55.30 445.44) scale(0.892 1)">pH 5</text>
<text transform="translate(55.30 450.22) scale(0.892 1)">1% NaCl</text>
<text transform="translate(55.30 455.00) scale(0.892 1)">4% NaCl</text>
<text transform="translate(55.30 459.78) scale(0.892 1)">8% NaCl</text>
<text transform="translate(55.30 464.56) scale(0.892 1)">1% Sodium Lactate</text>
<text transform="translate(55.30 469.34) scale(0.892 1)">Fusidic Acid</text>
<text transform="translate(55.30 474.12) scale(0.892 1)">D-Serine</text>
<text transform="translate(55.30 478.90) scale(0.892 1)">Troleandomycin</text>
<text transform="translate(55.30 483.68) scale(0.892 1)">Rifamycin SV</text>
<text transform="translate(55.30 488.46) scale(0.892 1)">Minocycline</text>
<text transform="translate(55.30 493.24) scale(0.892 1)">Lincomycin</text>
<text transform="translate(55.30 498.02) scale(0.892 1)">Guanidine HCl</text>
<text transform="translate(55.30 502.80) scale(0.892 1)">Niaproof 4</text>
<text transform="translate(55.30 507.58) scale(0.892 1)">Vancomycin</text>
<text transform="translate(55.30 512.36) scale(0.892 1)">Tetrazolium Violet</text>
<text transform="translate(55.30 517.14) scale(0.892 1)">Tetrazolium Blue</text>
<text transform="translate(55.30 521.92) scale(0.892 1)">Nalidixic Acid</text>
<text transform="translate(55.30 526.70) scale(0.892 1)">Lithium Chloride</text>
<text transform="translate(55.30 531.48) scale(0.892 1)">Potassium Tellurite</text>
<text transform="translate(55.30 536.26) scale(0.892 1)">Aztreonam</text>
<text transform="translate(55.30 541.04) scale(0.892 1)">Sodium Butyrate</text>
<text transform="translate(55.30 545.82) scale(0.892 1)">Sodium Broma</text>
</g>
<path d="M56.5 98.68H60.7M56.5 103.43H60.7M56.5 108.19H60.7M56.5 112.94H60.7M56.5 117.70H60.7M56.5 122.45H60.7M56.5 127.21H60.7M56.5 131.96H60.7M56.5 136.72H60.7M56.5 141.47H60.7M56.5 146.23H60.7M56.5 150.98H60.7M56.5 155.74H60.7M56.5 160.49H60.7M56.5 165.25H60.7M56.5 170.00H60.7M56.5 174.76H60.7M56.5 179.51H60.7M56.5 184.27H60.7M56.5 189.02H60.7M56.5 193.78H60.7M56.5 198.53H60.7M56.5 203.29H60.7M56.5 208.04H60.7M56.5 212.80H60.7M56.5 217.55H60.7M56.5 222.31H60.7M56.5 227.06H60.7M56.5 231.82H60.7M56.5 236.57H60.7M56.5 241.33H60.7M56.5 246.08H60.7M56.5 250.84H60.7M56.5 255.59H60.7M56.5 260.35H60.7M56.5 265.10H60.7M56.5 269.86H60.7M56.5 274.61H60.7M56.5 279.37H60.7M56.5 284.12H60.7M56.5 288.88H60.7M56.5 293.63H60.7M56.5 298.39H60.7M56.5 303.14H60.7M56.5 307.90H60.7M56.5 312.65H60.7M56.5 317.41H60.7M56.5 322.16H60.7M56.5 326.92H60.7M56.5 331.67H60.7M56.5 336.43H60.7M56.5 341.18H60.7M56.5 345.94H60.7M56.5 350.69H60.7M56.5 355.45H60.7M56.5 360.20H60.7M56.5 364.96H60.7M56.5 369.71H60.7M56.5 374.47H60.7M56.5 379.22H60.7M56.5 383.98H60.7M56.5 388.73H60.7M56.5 393.49H60.7M56.5 398.24H60.7M56.5 403.00H60.7M56.5 407.75H60.7M56.5 412.51H60.7M56.5 417.26H60.7M56.5 422.02H60.7M56.5 426.77H60.7M56.5 431.53H60.7M56.5 438.98H60.7M56.5 443.76H60.7M56.5 448.54H60.7M56.5 453.32H60.7M56.5 458.10H60.7M56.5 462.88H60.7M56.5 467.66H60.7M56.5 472.44H60.7M56.5 477.22H60.7M56.5 482.00H60.7M56.5 486.78H60.7M56.5 491.56H60.7M56.5 496.34H60.7M56.5 501.12H60.7M56.5 505.90H60.7M56.5 510.68H60.7M56.5 515.46H60.7M56.5 520.24H60.7M56.5 525.02H60.7M56.5 529.80H60.7M56.5 534.58H60.7M56.5 539.36H60.7M56.5 544.14H60.7" stroke="#000" stroke-width="1.6" fill="none"/>
<g font-family="Liberation Sans, Arial, sans-serif" font-size="5.9" font-style="italic" fill="#111" stroke="#111" stroke-width="0.12">
<circle cx="383.7" cy="103.9" r="1.5" fill="#232384"/>
<text x="388.6" y="109.6">V.rotiferianus</text>
<circle cx="383.7" cy="114.3" r="1.5" fill="#2222f0"/>
<text x="388.6" y="120.0">V.alginolyticus</text>
<circle cx="383.7" cy="124.7" r="1.5" fill="#8a86f0"/>
<text x="388.6" y="130.4">V.owensii</text>
<circle cx="383.7" cy="135.2" r="1.5" fill="#1fa3b0"/>
<text x="388.6" y="140.9">Vibrio sp.</text>
<circle cx="383.7" cy="145.6" r="1.5" fill="#80802e"/>
<text x="388.6" y="151.3">V. gigantis</text>
<circle cx="383.7" cy="156.0" r="1.5" fill="#c4c020"/>
<text x="388.6" y="161.7">V. chagasii</text>
<circle cx="383.7" cy="166.4" r="1.5" fill="#f4f420"/>
<text x="388.6" y="172.1">V. cyclitrophicus</text>
<circle cx="383.7" cy="176.8" r="1.5" fill="#22c040"/>
<text x="388.6" y="182.5">V. lentus</text>
<circle cx="383.7" cy="187.3" r="1.5" fill="#128040"/>
<text x="388.6" y="193.0">V. toranzoniae</text>
<circle cx="383.7" cy="197.7" r="1.5" fill="#4e1e62"/>
<text x="388.6" y="203.4">Ph. damselae</text>
<circle cx="383.7" cy="208.1" r="1.5" fill="#e040f0"/>
<text x="388.6" y="213.8">Ph. damselae</text>
<text x="388.6" y="221.8">subsp. damselae</text>
</g>
<text transform="translate(382.6,309.5) rotate(-90)" font-family="Liberation Sans, Arial, sans-serif" font-size="8.45" fill="#111" stroke="#111" stroke-width="0.12">Carbon utilization</text>
<text transform="translate(382.8,533) rotate(-90)" font-family="Liberation Sans, Arial, sans-serif" font-size="8.6" fill="#111" stroke="#111" stroke-width="0.12">Chemical resistance</text>
<rect x="374" y="395" width="12.4" height="12.8" fill="#80c0f8"/>
<rect x="374" y="407.8" width="12.4" height="12.9" fill="#8e0082"/>
<rect x="374" y="420.7" width="12.4" height="12.9" fill="#fdfb9a"/>
<g font-family="Liberation Sans, Arial, sans-serif" font-size="4.5" font-weight="bold" fill="#111">
<text x="391.6" y="402.9">negative</text>
<text x="391.6" y="415.9">positive</text>
<text x="391.6" y="428.8">intermediate</text>
</g>
<text transform="translate(41.5,89.3) rotate(-90)" font-family="Liberation Sans, Arial, sans-serif" font-size="5.75" fill="#111" stroke="#111" stroke-width="0.12">Dendrogram using Ward Linkage</text>
<text transform="translate(45.8,80.2) rotate(-90)" font-family="Liberation Sans, Arial, sans-serif" font-size="4.13" fill="#222" stroke="#222" stroke-width="0.08">Rescaled Distance Cluster Combine</text>
<text x="160.9" y="26.7" font-family="Liberation Sans, Arial, sans-serif" font-size="10" fill="#222" stroke="#222" stroke-width="0.12">a</text>
<text x="313.1" y="54.6" font-family="Liberation Sans, Arial, sans-serif" font-size="8.6" fill="#222">b</text>
<text x="344.2" y="54.6" font-family="Liberation Sans, Arial, sans-serif" font-size="8.6" fill="#222">c</text>
</svg>
</body></html>
